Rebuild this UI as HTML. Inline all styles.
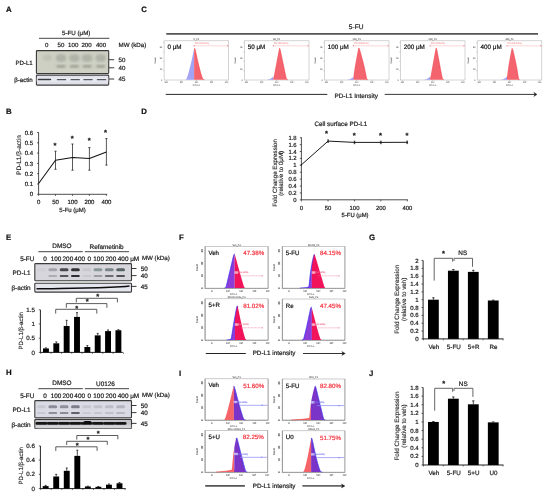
<!DOCTYPE html>
<html><head><meta charset="utf-8"><style>
html,body{margin:0;padding:0;background:#fff;}
svg{display:block;}
text{font-family:"Liberation Sans", Arial, sans-serif;text-rendering:geometricPrecision;}
</style></head><body>
<svg width="550" height="498" viewBox="0 0 550 498">
<rect width="550" height="498" fill="#fff"/>
<text x="6.00" y="11.80" font-size="7.8" text-anchor="start" fill="#111" font-weight="bold" stroke="#111" stroke-width="0.2" >A</text>
<text x="6.00" y="114.00" font-size="7.8" text-anchor="start" fill="#111" font-weight="bold" stroke="#111" stroke-width="0.2" >B</text>
<text x="141.30" y="11.80" font-size="7.8" text-anchor="start" fill="#111" font-weight="bold" stroke="#111" stroke-width="0.2" >C</text>
<text x="141.20" y="113.90" font-size="7.8" text-anchor="start" fill="#111" font-weight="bold" stroke="#111" stroke-width="0.2" >D</text>
<text x="6.10" y="240.10" font-size="7.8" text-anchor="start" fill="#111" font-weight="bold" stroke="#111" stroke-width="0.2" >E</text>
<text x="179.00" y="240.00" font-size="7.8" text-anchor="start" fill="#111" font-weight="bold" stroke="#111" stroke-width="0.2" >F</text>
<text x="369.00" y="240.20" font-size="7.8" text-anchor="start" fill="#111" font-weight="bold" stroke="#111" stroke-width="0.2" >G</text>
<text x="6.10" y="375.40" font-size="7.8" text-anchor="start" fill="#111" font-weight="bold" stroke="#111" stroke-width="0.2" >H</text>
<text x="179.00" y="375.90" font-size="7.8" text-anchor="start" fill="#111" font-weight="bold" stroke="#111" stroke-width="0.2" >I</text>
<text x="369.00" y="375.90" font-size="7.8" text-anchor="start" fill="#111" font-weight="bold" stroke="#111" stroke-width="0.2" >J</text>
<text x="76.20" y="35.10" font-size="6.2" text-anchor="middle" fill="#1a1a1a" font-weight="normal" stroke="#1a1a1a" stroke-width="0.2" >5-FU (μM)</text>
<line x1="39.00" y1="38.30" x2="109.40" y2="38.30" stroke="#333" stroke-width="0.9" />
<text x="46.60" y="47.40" font-size="6.1" text-anchor="middle" fill="#1a1a1a" font-weight="normal" stroke="#1a1a1a" stroke-width="0.2" >0</text>
<text x="61.00" y="47.40" font-size="6.1" text-anchor="middle" fill="#1a1a1a" font-weight="normal" stroke="#1a1a1a" stroke-width="0.2" >50</text>
<text x="73.20" y="47.40" font-size="6.1" text-anchor="middle" fill="#1a1a1a" font-weight="normal" stroke="#1a1a1a" stroke-width="0.2" >100</text>
<text x="86.50" y="47.40" font-size="6.1" text-anchor="middle" fill="#1a1a1a" font-weight="normal" stroke="#1a1a1a" stroke-width="0.2" >200</text>
<text x="101.00" y="47.40" font-size="6.1" text-anchor="middle" fill="#1a1a1a" font-weight="normal" stroke="#1a1a1a" stroke-width="0.2" >400</text>
<text x="118.50" y="47.00" font-size="6.2" text-anchor="start" fill="#1a1a1a" font-weight="normal" stroke="#1a1a1a" stroke-width="0.2" >MW (kDa)</text>
<defs><filter id="bl" x="-50%" y="-100%" width="200%" height="300%"><feGaussianBlur stdDeviation="0.9"/></filter><filter id="bl2" x="-50%" y="-100%" width="200%" height="300%"><feGaussianBlur stdDeviation="0.5"/></filter><filter id="bls" x="-100%" y="-100%" width="300%" height="300%"><feGaussianBlur stdDeviation="0.35"/></filter><filter id="bl3" x="-50%" y="-100%" width="200%" height="300%"><feGaussianBlur stdDeviation="1.4"/></filter></defs>
<rect x="36.40" y="50.60" width="72.30" height="22.90" fill="#cdd0c3" stroke="#3a3a3a" stroke-width="1.1" rx="0.8"/>
<rect x="43.00" y="54.80" width="9.00" height="6.00" rx="3.00" fill="#bfc2b5" opacity="1.0" filter="url(#bl)"/>
<rect x="55.75" y="54.25" width="10.50" height="7.50" rx="3.75" fill="#b0b3a7" opacity="1.0" filter="url(#bl)"/>
<rect x="56.50" y="65.60" width="9.00" height="1.60" rx="0.80" fill="#86887e" opacity="1.0" filter="url(#bl)"/>
<rect x="69.15" y="54.25" width="10.50" height="7.50" rx="3.75" fill="#b0b3a7" opacity="1.0" filter="url(#bl)"/>
<rect x="69.90" y="65.60" width="9.00" height="1.60" rx="0.80" fill="#86887e" opacity="1.0" filter="url(#bl)"/>
<rect x="81.95" y="54.25" width="10.50" height="7.50" rx="3.75" fill="#b0b3a7" opacity="1.0" filter="url(#bl)"/>
<rect x="82.70" y="65.60" width="9.00" height="1.60" rx="0.80" fill="#86887e" opacity="1.0" filter="url(#bl)"/>
<rect x="95.45" y="54.25" width="10.50" height="7.50" rx="3.75" fill="#b0b3a7" opacity="1.0" filter="url(#bl)"/>
<rect x="96.20" y="65.60" width="9.00" height="1.60" rx="0.80" fill="#86887e" opacity="1.0" filter="url(#bl)"/>
<rect x="36.40" y="75.10" width="72.30" height="10.00" fill="#dedee8" stroke="#3a3a3a" stroke-width="1.1" rx="0.8"/>
<rect x="37" y="77.5" width="71" height="4" fill="#ececf4" filter="url(#bl)"/>
<rect x="37.75" y="78.70" width="13.50" height="1.60" rx="0.80" fill="#3a3a42" opacity="1.0" filter="url(#bl2)"/>
<rect x="56.75" y="79.05" width="9.50" height="1.30" rx="0.65" fill="#5a5a64" opacity="1.0" filter="url(#bl2)"/>
<rect x="70.45" y="79.05" width="9.50" height="1.30" rx="0.65" fill="#5a5a64" opacity="1.0" filter="url(#bl2)"/>
<rect x="83.25" y="79.05" width="9.50" height="1.30" rx="0.65" fill="#5a5a64" opacity="1.0" filter="url(#bl2)"/>
<rect x="96.75" y="79.05" width="9.50" height="1.30" rx="0.65" fill="#5a5a64" opacity="1.0" filter="url(#bl2)"/>
<line x1="109.00" y1="59.70" x2="114.20" y2="59.70" stroke="#222" stroke-width="0.9" />
<line x1="109.00" y1="67.80" x2="114.20" y2="67.80" stroke="#222" stroke-width="0.9" />
<line x1="109.00" y1="79.00" x2="114.20" y2="79.00" stroke="#222" stroke-width="0.9" />
<text x="118.60" y="62.10" font-size="6.1" text-anchor="start" fill="#1a1a1a" font-weight="normal" stroke="#1a1a1a" stroke-width="0.2" >50</text>
<text x="118.60" y="70.20" font-size="6.1" text-anchor="start" fill="#1a1a1a" font-weight="normal" stroke="#1a1a1a" stroke-width="0.2" >40</text>
<text x="118.60" y="81.40" font-size="6.1" text-anchor="start" fill="#1a1a1a" font-weight="normal" stroke="#1a1a1a" stroke-width="0.2" >45</text>
<text x="32.70" y="65.20" font-size="6.1" text-anchor="end" fill="#1a1a1a" font-weight="normal" stroke="#1a1a1a" stroke-width="0.2" >PD-L1</text>
<text x="32.70" y="82.00" font-size="6.1" text-anchor="end" fill="#1a1a1a" font-weight="normal" stroke="#1a1a1a" stroke-width="0.2" >β-actin</text>
<line x1="38.60" y1="132.30" x2="38.60" y2="194.30" stroke="#222" stroke-width="0.8" />
<line x1="37.00" y1="194.30" x2="38.60" y2="194.30" stroke="#222" stroke-width="0.7" />
<text x="33.00" y="196.40" font-size="6.0" text-anchor="end" fill="#1a1a1a" font-weight="normal" stroke="#1a1a1a" stroke-width="0.2" >0</text>
<line x1="37.00" y1="184.00" x2="38.60" y2="184.00" stroke="#222" stroke-width="0.7" />
<text x="33.00" y="186.10" font-size="6.0" text-anchor="end" fill="#1a1a1a" font-weight="normal" stroke="#1a1a1a" stroke-width="0.2" >0.1</text>
<line x1="37.00" y1="173.70" x2="38.60" y2="173.70" stroke="#222" stroke-width="0.7" />
<text x="33.00" y="175.80" font-size="6.0" text-anchor="end" fill="#1a1a1a" font-weight="normal" stroke="#1a1a1a" stroke-width="0.2" >0.2</text>
<line x1="37.00" y1="163.40" x2="38.60" y2="163.40" stroke="#222" stroke-width="0.7" />
<text x="33.00" y="165.50" font-size="6.0" text-anchor="end" fill="#1a1a1a" font-weight="normal" stroke="#1a1a1a" stroke-width="0.2" >0.3</text>
<line x1="37.00" y1="153.10" x2="38.60" y2="153.10" stroke="#222" stroke-width="0.7" />
<text x="33.00" y="155.20" font-size="6.0" text-anchor="end" fill="#1a1a1a" font-weight="normal" stroke="#1a1a1a" stroke-width="0.2" >0.4</text>
<line x1="37.00" y1="142.80" x2="38.60" y2="142.80" stroke="#222" stroke-width="0.7" />
<text x="33.00" y="144.90" font-size="6.0" text-anchor="end" fill="#1a1a1a" font-weight="normal" stroke="#1a1a1a" stroke-width="0.2" >0.5</text>
<line x1="37.00" y1="132.50" x2="38.60" y2="132.50" stroke="#222" stroke-width="0.7" />
<text x="33.00" y="134.60" font-size="6.0" text-anchor="end" fill="#1a1a1a" font-weight="normal" stroke="#1a1a1a" stroke-width="0.2" >0.6</text>
<line x1="38.60" y1="194.30" x2="107.20" y2="194.30" stroke="#222" stroke-width="0.8" />
<line x1="38.60" y1="194.30" x2="38.60" y2="195.90" stroke="#222" stroke-width="0.7" />
<text x="38.60" y="203.80" font-size="6.0" text-anchor="middle" fill="#1a1a1a" font-weight="normal" stroke="#1a1a1a" stroke-width="0.2" >0</text>
<line x1="55.50" y1="194.30" x2="55.50" y2="195.90" stroke="#222" stroke-width="0.7" />
<text x="55.50" y="203.80" font-size="6.0" text-anchor="middle" fill="#1a1a1a" font-weight="normal" stroke="#1a1a1a" stroke-width="0.2" >50</text>
<line x1="72.50" y1="194.30" x2="72.50" y2="195.90" stroke="#222" stroke-width="0.7" />
<text x="72.50" y="203.80" font-size="6.0" text-anchor="middle" fill="#1a1a1a" font-weight="normal" stroke="#1a1a1a" stroke-width="0.2" >100</text>
<line x1="89.40" y1="194.30" x2="89.40" y2="195.90" stroke="#222" stroke-width="0.7" />
<text x="89.40" y="203.80" font-size="6.0" text-anchor="middle" fill="#1a1a1a" font-weight="normal" stroke="#1a1a1a" stroke-width="0.2" >200</text>
<line x1="106.40" y1="194.30" x2="106.40" y2="195.90" stroke="#222" stroke-width="0.7" />
<text x="106.40" y="203.80" font-size="6.0" text-anchor="middle" fill="#1a1a1a" font-weight="normal" stroke="#1a1a1a" stroke-width="0.2" >400</text>
<text x="72.60" y="212.30" font-size="6.0" text-anchor="middle" fill="#1a1a1a" font-weight="normal" stroke="#1a1a1a" stroke-width="0.2" >5-Fu (μM)</text>
<text x="0.00" y="0.00" font-size="6.5" text-anchor="middle" fill="#1a1a1a" font-weight="normal" stroke="#1a1a1a" stroke-width="0.12" transform="translate(21.2,155.0) rotate(-90)">PD-L1/β-actin</text>
<polyline points="38.60,183.50 55.50,160.30 72.50,157.50 89.40,158.50 106.40,152.10" fill="none" stroke="#111" stroke-width="1.05" stroke-linejoin="round" />
<line x1="55.50" y1="151.20" x2="55.50" y2="169.30" stroke="#111" stroke-width="0.7" />
<line x1="54.40" y1="151.20" x2="56.60" y2="151.20" stroke="#111" stroke-width="0.7" />
<line x1="54.40" y1="169.30" x2="56.60" y2="169.30" stroke="#111" stroke-width="0.7" />
<line x1="72.50" y1="144.00" x2="72.50" y2="170.20" stroke="#111" stroke-width="0.7" />
<line x1="71.40" y1="144.00" x2="73.60" y2="144.00" stroke="#111" stroke-width="0.7" />
<line x1="71.40" y1="170.20" x2="73.60" y2="170.20" stroke="#111" stroke-width="0.7" />
<line x1="89.40" y1="147.60" x2="89.40" y2="170.20" stroke="#111" stroke-width="0.7" />
<line x1="88.30" y1="147.60" x2="90.50" y2="147.60" stroke="#111" stroke-width="0.7" />
<line x1="88.30" y1="170.20" x2="90.50" y2="170.20" stroke="#111" stroke-width="0.7" />
<line x1="106.40" y1="138.60" x2="106.40" y2="165.10" stroke="#111" stroke-width="0.7" />
<line x1="105.30" y1="138.60" x2="107.50" y2="138.60" stroke="#111" stroke-width="0.7" />
<line x1="105.30" y1="165.10" x2="107.50" y2="165.10" stroke="#111" stroke-width="0.7" />
<text x="55.00" y="147.56" font-size="7.6" text-anchor="middle" fill="#111" font-weight="bold" stroke="#111" stroke-width="0.15">*</text>
<text x="72.20" y="141.06" font-size="7.6" text-anchor="middle" fill="#111" font-weight="bold" stroke="#111" stroke-width="0.15">*</text>
<text x="89.30" y="142.96" font-size="7.6" text-anchor="middle" fill="#111" font-weight="bold" stroke="#111" stroke-width="0.15">*</text>
<text x="105.60" y="134.76" font-size="7.6" text-anchor="middle" fill="#111" font-weight="bold" stroke="#111" stroke-width="0.15">*</text>
<text x="356.10" y="28.80" font-size="6.6" text-anchor="middle" fill="#1a1a1a" font-weight="normal" stroke="#1a1a1a" stroke-width="0.2" >5-FU</text>
<line x1="166.30" y1="33.90" x2="538.00" y2="33.90" stroke="#555" stroke-width="1.7" />
<rect x="164.10" y="40.80" width="64.60" height="39.20" fill="#fff" stroke="#b8b8b8" stroke-width="0.6" />
<line x1="162.90" y1="70.67" x2="164.10" y2="70.67" stroke="#999" stroke-width="0.4" />
<line x1="162.90" y1="61.33" x2="164.10" y2="61.33" stroke="#999" stroke-width="0.4" />
<line x1="162.90" y1="52.00" x2="164.10" y2="52.00" stroke="#999" stroke-width="0.4" />
<line x1="162.90" y1="42.67" x2="164.10" y2="42.67" stroke="#999" stroke-width="0.4" />
<line x1="166.10" y1="80.00" x2="166.10" y2="81.20" stroke="#999" stroke-width="0.4" />
<line x1="181.25" y1="80.00" x2="181.25" y2="81.20" stroke="#999" stroke-width="0.4" />
<line x1="196.40" y1="80.00" x2="196.40" y2="81.20" stroke="#999" stroke-width="0.4" />
<line x1="211.55" y1="80.00" x2="211.55" y2="81.20" stroke="#999" stroke-width="0.4" />
<line x1="226.70" y1="80.00" x2="226.70" y2="81.20" stroke="#999" stroke-width="0.4" />
<polygon points="184.50,79.70 184.50,79.70 184.75,79.70 185.00,79.70 185.26,79.68 185.51,79.64 185.76,79.54 186.01,79.35 186.27,79.05 186.52,78.63 186.77,78.10 187.03,77.49 187.28,76.81 187.53,76.09 187.78,75.32 188.03,74.51 188.29,73.68 188.54,72.81 188.79,71.92 189.04,71.00 189.30,70.06 189.55,69.10 189.80,68.11 190.06,67.10 190.31,66.08 190.56,65.04 190.81,63.98 191.06,62.90 191.32,61.81 191.57,60.70 191.82,59.57 192.07,58.43 192.33,57.28 192.58,56.11 192.83,54.93 193.09,53.73 193.34,52.53 193.59,51.34 193.84,50.21 194.09,49.23 194.10,49.21 194.10,79.70" fill="#a3a3f5" stroke="none" stroke-width="0.8" />
<polygon points="194.10,79.70 194.10,49.21 194.35,48.55 194.60,48.30 194.85,48.55 195.10,49.23 195.36,50.21 195.61,51.34 195.86,52.53 196.11,53.73 196.37,54.93 196.62,56.11 196.87,57.28 197.12,58.43 197.38,59.57 197.63,60.70 197.88,61.81 198.13,62.90 198.39,63.98 198.64,65.04 198.89,66.08 199.14,67.10 199.40,68.11 199.65,69.10 199.90,70.06 200.16,71.00 200.41,71.92 200.66,72.81 200.91,73.68 201.16,74.51 201.42,75.32 201.67,76.09 201.92,76.81 202.17,77.49 202.43,78.10 202.68,78.63 202.93,79.05 203.19,79.35 203.44,79.54 203.69,79.64 203.94,79.68 204.19,79.70 204.45,79.70 204.70,79.70 204.70,79.70" fill="#f4646e" stroke="none" stroke-width="0.8" />
<polyline points="194.35,48.55 194.60,48.30 194.85,48.55 195.10,49.23 195.36,50.21 195.61,51.34 195.86,52.53 196.11,53.73 196.37,54.93 196.62,56.11 196.87,57.28 197.12,58.43 197.38,59.57 197.63,60.70 197.88,61.81 198.13,62.90 198.39,63.98 198.64,65.04 198.89,66.08 199.14,67.10 199.40,68.11 199.65,69.10 199.90,70.06 200.16,71.00 200.41,71.92 200.66,72.81 200.91,73.68 201.16,74.51 201.42,75.32 201.67,76.09 201.92,76.81 202.17,77.49 202.43,78.10 202.68,78.63 202.93,79.05 203.19,79.35 203.44,79.54 203.69,79.64 203.94,79.68 204.19,79.70 204.45,79.70 204.70,79.70" fill="none" stroke="#ee2a36" stroke-width="0.5" stroke-linejoin="round" />
<line x1="194.10" y1="45.80" x2="227.70" y2="45.80" stroke="#f8b0b0" stroke-width="0.5" />
<rect x="193.70" y="45.10" width="0.80" height="1.40" fill="#f07070" stroke="none" stroke-width="0.8" />
<rect x="227.30" y="45.10" width="0.80" height="1.40" fill="#f07070" stroke="none" stroke-width="0.8" />
<text x="194.70" y="43.70" font-size="2.6" text-anchor="start" fill="#f47878" font-weight="normal" >P3 (93.51%)</text>
<text x="167.40" y="48.80" font-size="6.3" text-anchor="start" fill="#111" font-weight="normal" stroke="#111" stroke-width="0.2" >0 μM</text>
<text x="196.40" y="39.80" font-size="2.4" text-anchor="middle" fill="#777" font-weight="normal" stroke="#777" stroke-width="0.1" >0_P1</text>
<text x="196.40" y="85.80" font-size="2.2" text-anchor="middle" fill="#888" font-weight="normal" stroke="#888" stroke-width="0.1" >FITC-A</text>
<text x="166.10" y="82.80" font-size="2.2" text-anchor="middle" fill="#777" font-weight="normal" stroke="#777" stroke-width="0.1" >10²</text>
<text x="181.25" y="82.80" font-size="2.2" text-anchor="middle" fill="#777" font-weight="normal" stroke="#777" stroke-width="0.1" >10³</text>
<text x="196.40" y="82.80" font-size="2.2" text-anchor="middle" fill="#777" font-weight="normal" stroke="#777" stroke-width="0.1" >10⁴</text>
<text x="211.55" y="82.80" font-size="2.2" text-anchor="middle" fill="#777" font-weight="normal" stroke="#777" stroke-width="0.1" >10⁵</text>
<text x="226.70" y="82.80" font-size="2.2" text-anchor="middle" fill="#777" font-weight="normal" stroke="#777" stroke-width="0.1" >10⁶</text>
<text x="155.80" y="60.60" font-size="2.2" text-anchor="middle" fill="#777" font-weight="normal" stroke="#777" stroke-width="0.1" transform="rotate(-90 155.80 60.60)">Count</text>
<text x="162.30" y="80.80" font-size="2.2" text-anchor="end" fill="#777" font-weight="normal" stroke="#777" stroke-width="0.1" >0</text>
<text x="162.30" y="69.91" font-size="2.2" text-anchor="end" fill="#777" font-weight="normal" stroke="#777" stroke-width="0.1" >10</text>
<text x="162.30" y="59.02" font-size="2.2" text-anchor="end" fill="#777" font-weight="normal" stroke="#777" stroke-width="0.1" >20</text>
<text x="162.30" y="48.13" font-size="2.2" text-anchor="end" fill="#777" font-weight="normal" stroke="#777" stroke-width="0.1" >30</text>
<rect x="244.40" y="40.80" width="64.60" height="39.20" fill="#fff" stroke="#b8b8b8" stroke-width="0.6" />
<line x1="243.20" y1="70.67" x2="244.40" y2="70.67" stroke="#999" stroke-width="0.4" />
<line x1="243.20" y1="61.33" x2="244.40" y2="61.33" stroke="#999" stroke-width="0.4" />
<line x1="243.20" y1="52.00" x2="244.40" y2="52.00" stroke="#999" stroke-width="0.4" />
<line x1="243.20" y1="42.67" x2="244.40" y2="42.67" stroke="#999" stroke-width="0.4" />
<line x1="246.40" y1="80.00" x2="246.40" y2="81.20" stroke="#999" stroke-width="0.4" />
<line x1="261.55" y1="80.00" x2="261.55" y2="81.20" stroke="#999" stroke-width="0.4" />
<line x1="276.70" y1="80.00" x2="276.70" y2="81.20" stroke="#999" stroke-width="0.4" />
<line x1="291.85" y1="80.00" x2="291.85" y2="81.20" stroke="#999" stroke-width="0.4" />
<line x1="307.00" y1="80.00" x2="307.00" y2="81.20" stroke="#999" stroke-width="0.4" />
<polygon points="266.80,79.70 269.30,79.20 271.80,78.00 273.30,76.60 273.30,79.70" fill="#a0a0f0" stroke="none" stroke-width="0.8" />
<polygon points="271.70,79.70 271.70,79.70 271.90,79.70 272.11,79.69 272.31,79.66 272.51,79.60 272.72,79.47 272.92,79.22 273.13,78.83 273.30,78.35 273.30,79.70" fill="#a3a3f5" stroke="none" stroke-width="0.8" />
<polygon points="273.30,79.70 273.30,78.35 273.33,78.27 273.53,77.54 273.74,76.66 273.94,75.69 274.14,74.66 274.35,73.60 274.55,72.53 274.76,71.45 274.96,70.37 275.16,69.29 275.37,68.21 275.57,67.13 275.77,66.05 275.98,64.97 276.18,63.89 276.39,62.81 276.59,61.73 276.79,60.65 277.00,59.57 277.20,58.49 277.40,57.41 277.61,56.33 277.81,55.25 278.02,54.17 278.22,53.09 278.42,52.03 278.63,51.00 278.83,50.05 279.03,49.24 279.24,48.64 279.44,48.33 279.65,48.35 279.85,48.68 280.05,49.28 280.26,50.05 280.46,50.94 280.67,51.87 280.87,52.84 281.07,53.81 281.28,54.78 281.48,55.75 281.68,56.72 281.89,57.69 282.09,58.67 282.30,59.64 282.50,60.61 282.70,61.58 282.91,62.55 283.11,63.53 283.31,64.50 283.52,65.47 283.72,66.44 283.93,67.41 284.13,68.39 284.33,69.36 284.54,70.33 284.74,71.30 284.94,72.28 285.15,73.25 285.35,74.21 285.56,75.17 285.76,76.09 285.96,76.97 286.17,77.75 286.37,78.41 286.57,78.92 286.78,79.27 286.98,79.49 287.19,79.61 287.39,79.67 287.59,79.69 287.80,79.70 288.00,79.70 288.00,79.70" fill="#f4646e" stroke="none" stroke-width="0.8" />
<polyline points="279.24,48.64 279.44,48.33 279.65,48.35 279.85,48.68 280.05,49.28 280.26,50.05 280.46,50.94 280.67,51.87 280.87,52.84 281.07,53.81 281.28,54.78 281.48,55.75 281.68,56.72 281.89,57.69 282.09,58.67 282.30,59.64 282.50,60.61 282.70,61.58 282.91,62.55 283.11,63.53 283.31,64.50 283.52,65.47 283.72,66.44 283.93,67.41 284.13,68.39 284.33,69.36 284.54,70.33 284.74,71.30 284.94,72.28 285.15,73.25 285.35,74.21 285.56,75.17 285.76,76.09 285.96,76.97 286.17,77.75 286.37,78.41 286.57,78.92 286.78,79.27 286.98,79.49 287.19,79.61 287.39,79.67 287.59,79.69 287.80,79.70 288.00,79.70" fill="none" stroke="#ee2a36" stroke-width="0.5" stroke-linejoin="round" />
<line x1="273.30" y1="45.80" x2="308.00" y2="45.80" stroke="#f8b0b0" stroke-width="0.5" />
<rect x="272.90" y="45.10" width="0.80" height="1.40" fill="#f07070" stroke="none" stroke-width="0.8" />
<rect x="307.60" y="45.10" width="0.80" height="1.40" fill="#f07070" stroke="none" stroke-width="0.8" />
<text x="273.90" y="43.70" font-size="2.6" text-anchor="start" fill="#f47878" font-weight="normal" >P3 (93.51%)</text>
<text x="247.70" y="48.80" font-size="6.3" text-anchor="start" fill="#111" font-weight="normal" stroke="#111" stroke-width="0.2" >50 μM</text>
<text x="276.70" y="39.80" font-size="2.4" text-anchor="middle" fill="#777" font-weight="normal" stroke="#777" stroke-width="0.1" >50_P1</text>
<text x="276.70" y="85.80" font-size="2.2" text-anchor="middle" fill="#888" font-weight="normal" stroke="#888" stroke-width="0.1" >FITC-A</text>
<text x="246.40" y="82.80" font-size="2.2" text-anchor="middle" fill="#777" font-weight="normal" stroke="#777" stroke-width="0.1" >10²</text>
<text x="261.55" y="82.80" font-size="2.2" text-anchor="middle" fill="#777" font-weight="normal" stroke="#777" stroke-width="0.1" >10³</text>
<text x="276.70" y="82.80" font-size="2.2" text-anchor="middle" fill="#777" font-weight="normal" stroke="#777" stroke-width="0.1" >10⁴</text>
<text x="291.85" y="82.80" font-size="2.2" text-anchor="middle" fill="#777" font-weight="normal" stroke="#777" stroke-width="0.1" >10⁵</text>
<text x="307.00" y="82.80" font-size="2.2" text-anchor="middle" fill="#777" font-weight="normal" stroke="#777" stroke-width="0.1" >10⁶</text>
<text x="236.10" y="60.60" font-size="2.2" text-anchor="middle" fill="#777" font-weight="normal" stroke="#777" stroke-width="0.1" transform="rotate(-90 236.10 60.60)">Count</text>
<text x="242.60" y="80.80" font-size="2.2" text-anchor="end" fill="#777" font-weight="normal" stroke="#777" stroke-width="0.1" >0</text>
<text x="242.60" y="69.91" font-size="2.2" text-anchor="end" fill="#777" font-weight="normal" stroke="#777" stroke-width="0.1" >10</text>
<text x="242.60" y="59.02" font-size="2.2" text-anchor="end" fill="#777" font-weight="normal" stroke="#777" stroke-width="0.1" >20</text>
<text x="242.60" y="48.13" font-size="2.2" text-anchor="end" fill="#777" font-weight="normal" stroke="#777" stroke-width="0.1" >30</text>
<rect x="324.40" y="40.80" width="64.60" height="39.20" fill="#fff" stroke="#b8b8b8" stroke-width="0.6" />
<line x1="323.20" y1="70.67" x2="324.40" y2="70.67" stroke="#999" stroke-width="0.4" />
<line x1="323.20" y1="61.33" x2="324.40" y2="61.33" stroke="#999" stroke-width="0.4" />
<line x1="323.20" y1="52.00" x2="324.40" y2="52.00" stroke="#999" stroke-width="0.4" />
<line x1="323.20" y1="42.67" x2="324.40" y2="42.67" stroke="#999" stroke-width="0.4" />
<line x1="326.40" y1="80.00" x2="326.40" y2="81.20" stroke="#999" stroke-width="0.4" />
<line x1="341.55" y1="80.00" x2="341.55" y2="81.20" stroke="#999" stroke-width="0.4" />
<line x1="356.70" y1="80.00" x2="356.70" y2="81.20" stroke="#999" stroke-width="0.4" />
<line x1="371.85" y1="80.00" x2="371.85" y2="81.20" stroke="#999" stroke-width="0.4" />
<line x1="387.00" y1="80.00" x2="387.00" y2="81.20" stroke="#999" stroke-width="0.4" />
<polygon points="347.10,79.70 349.60,79.20 352.10,78.00 353.60,76.60 353.60,79.70" fill="#a0a0f0" stroke="none" stroke-width="0.8" />
<polygon points="351.70,79.70 351.70,79.70 351.90,79.70 352.11,79.68 352.31,79.62 352.52,79.49 352.72,79.23 352.93,78.77 353.13,78.05 353.34,77.07 353.55,75.86 353.60,75.49 353.60,79.70" fill="#a3a3f5" stroke="none" stroke-width="0.8" />
<polygon points="353.60,79.70 353.60,75.49 353.75,74.50 353.95,73.07 354.16,71.64 354.37,70.23 354.57,68.87 354.77,67.56 354.98,66.28 355.19,65.04 355.39,63.82 355.59,62.63 355.80,61.47 356.00,60.32 356.21,59.18 356.42,58.07 356.62,56.97 356.82,55.88 357.03,54.80 357.24,53.74 357.44,52.69 357.64,51.66 357.85,50.68 358.06,49.77 358.26,48.99 358.46,48.40 358.67,48.07 358.88,48.01 359.08,48.22 359.29,48.63 359.49,49.19 359.69,49.84 359.90,50.53 360.11,51.24 360.31,51.96 360.51,52.69 360.72,53.42 360.93,54.16 361.13,54.90 361.34,55.65 361.54,56.40 361.75,57.16 361.95,57.93 362.16,58.70 362.36,59.48 362.56,60.27 362.77,61.06 362.98,61.87 363.18,62.68 363.38,63.51 363.59,64.34 363.80,65.19 364.00,66.05 364.21,66.93 364.41,67.82 364.62,68.73 364.82,69.66 365.03,70.61 365.23,71.60 365.44,72.61 365.64,73.66 365.85,74.74 366.05,75.81 366.25,76.82 366.46,77.73 366.67,78.47 366.87,79.00 367.08,79.35 367.28,79.55 367.49,79.64 367.69,79.68 367.90,79.70 368.10,79.70 368.10,79.70" fill="#f4646e" stroke="none" stroke-width="0.8" />
<polyline points="358.46,48.40 358.67,48.07 358.88,48.01 359.08,48.22 359.29,48.63 359.49,49.19 359.69,49.84 359.90,50.53 360.11,51.24 360.31,51.96 360.51,52.69 360.72,53.42 360.93,54.16 361.13,54.90 361.34,55.65 361.54,56.40 361.75,57.16 361.95,57.93 362.16,58.70 362.36,59.48 362.56,60.27 362.77,61.06 362.98,61.87 363.18,62.68 363.38,63.51 363.59,64.34 363.80,65.19 364.00,66.05 364.21,66.93 364.41,67.82 364.62,68.73 364.82,69.66 365.03,70.61 365.23,71.60 365.44,72.61 365.64,73.66 365.85,74.74 366.05,75.81 366.25,76.82 366.46,77.73 366.67,78.47 366.87,79.00 367.08,79.35 367.28,79.55 367.49,79.64 367.69,79.68 367.90,79.70 368.10,79.70" fill="none" stroke="#ee2a36" stroke-width="0.5" stroke-linejoin="round" />
<line x1="353.60" y1="45.80" x2="388.00" y2="45.80" stroke="#f8b0b0" stroke-width="0.5" />
<rect x="353.20" y="45.10" width="0.80" height="1.40" fill="#f07070" stroke="none" stroke-width="0.8" />
<rect x="387.60" y="45.10" width="0.80" height="1.40" fill="#f07070" stroke="none" stroke-width="0.8" />
<text x="354.20" y="43.70" font-size="2.6" text-anchor="start" fill="#f47878" font-weight="normal" >P3 (93.51%)</text>
<text x="327.70" y="48.80" font-size="6.3" text-anchor="start" fill="#111" font-weight="normal" stroke="#111" stroke-width="0.2" >100 μM</text>
<text x="356.70" y="39.80" font-size="2.4" text-anchor="middle" fill="#777" font-weight="normal" stroke="#777" stroke-width="0.1" >100_P1</text>
<text x="356.70" y="85.80" font-size="2.2" text-anchor="middle" fill="#888" font-weight="normal" stroke="#888" stroke-width="0.1" >FITC-A</text>
<text x="326.40" y="82.80" font-size="2.2" text-anchor="middle" fill="#777" font-weight="normal" stroke="#777" stroke-width="0.1" >10²</text>
<text x="341.55" y="82.80" font-size="2.2" text-anchor="middle" fill="#777" font-weight="normal" stroke="#777" stroke-width="0.1" >10³</text>
<text x="356.70" y="82.80" font-size="2.2" text-anchor="middle" fill="#777" font-weight="normal" stroke="#777" stroke-width="0.1" >10⁴</text>
<text x="371.85" y="82.80" font-size="2.2" text-anchor="middle" fill="#777" font-weight="normal" stroke="#777" stroke-width="0.1" >10⁵</text>
<text x="387.00" y="82.80" font-size="2.2" text-anchor="middle" fill="#777" font-weight="normal" stroke="#777" stroke-width="0.1" >10⁶</text>
<text x="316.10" y="60.60" font-size="2.2" text-anchor="middle" fill="#777" font-weight="normal" stroke="#777" stroke-width="0.1" transform="rotate(-90 316.10 60.60)">Count</text>
<text x="322.60" y="80.80" font-size="2.2" text-anchor="end" fill="#777" font-weight="normal" stroke="#777" stroke-width="0.1" >0</text>
<text x="322.60" y="69.91" font-size="2.2" text-anchor="end" fill="#777" font-weight="normal" stroke="#777" stroke-width="0.1" >10</text>
<text x="322.60" y="59.02" font-size="2.2" text-anchor="end" fill="#777" font-weight="normal" stroke="#777" stroke-width="0.1" >20</text>
<text x="322.60" y="48.13" font-size="2.2" text-anchor="end" fill="#777" font-weight="normal" stroke="#777" stroke-width="0.1" >30</text>
<rect x="400.40" y="40.80" width="64.60" height="39.20" fill="#fff" stroke="#b8b8b8" stroke-width="0.6" />
<line x1="399.20" y1="70.67" x2="400.40" y2="70.67" stroke="#999" stroke-width="0.4" />
<line x1="399.20" y1="61.33" x2="400.40" y2="61.33" stroke="#999" stroke-width="0.4" />
<line x1="399.20" y1="52.00" x2="400.40" y2="52.00" stroke="#999" stroke-width="0.4" />
<line x1="399.20" y1="42.67" x2="400.40" y2="42.67" stroke="#999" stroke-width="0.4" />
<line x1="402.40" y1="80.00" x2="402.40" y2="81.20" stroke="#999" stroke-width="0.4" />
<line x1="417.55" y1="80.00" x2="417.55" y2="81.20" stroke="#999" stroke-width="0.4" />
<line x1="432.70" y1="80.00" x2="432.70" y2="81.20" stroke="#999" stroke-width="0.4" />
<line x1="447.85" y1="80.00" x2="447.85" y2="81.20" stroke="#999" stroke-width="0.4" />
<line x1="463.00" y1="80.00" x2="463.00" y2="81.20" stroke="#999" stroke-width="0.4" />
<polygon points="423.60,79.70 426.10,79.20 428.60,78.00 430.10,76.60 430.10,79.70" fill="#a0a0f0" stroke="none" stroke-width="0.8" />
<polygon points="428.50,79.70 428.50,79.70 428.69,79.70 428.89,79.69 429.08,79.67 429.27,79.61 429.47,79.50 429.66,79.29 429.86,78.95 430.05,78.45 430.10,78.28 430.10,79.70" fill="#a3a3f5" stroke="none" stroke-width="0.8" />
<polygon points="430.10,79.70 430.10,78.28 430.24,77.79 430.44,76.99 430.63,76.06 430.82,75.07 431.02,74.03 431.21,72.97 431.41,71.90 431.60,70.82 431.79,69.75 431.99,68.67 432.18,67.60 432.38,66.52 432.57,65.45 432.76,64.37 432.96,63.29 433.15,62.22 433.34,61.14 433.54,60.07 433.73,58.99 433.93,57.92 434.12,56.84 434.31,55.77 434.51,54.69 434.70,53.62 434.89,52.55 435.09,51.50 435.28,50.50 435.48,49.58 435.67,48.82 435.86,48.27 436.06,48.01 436.25,48.08 436.44,48.45 436.64,49.07 436.83,49.88 437.02,50.80 437.22,51.79 437.41,52.80 437.61,53.82 437.80,54.84 437.99,55.87 438.19,56.89 438.38,57.92 438.57,58.94 438.77,59.96 438.96,60.99 439.16,62.01 439.35,63.04 439.54,64.06 439.74,65.09 439.93,66.11 440.12,67.14 440.32,68.16 440.51,69.19 440.71,70.21 440.90,71.24 441.09,72.26 441.29,73.28 441.48,74.29 441.68,75.29 441.87,76.24 442.06,77.11 442.26,77.88 442.45,78.51 442.64,78.99 442.84,79.31 443.03,79.51 443.23,79.62 443.42,79.67 443.61,79.69 443.81,79.70 444.00,79.70 444.00,79.70" fill="#f4646e" stroke="none" stroke-width="0.8" />
<polyline points="435.86,48.27 436.06,48.01 436.25,48.08 436.44,48.45 436.64,49.07 436.83,49.88 437.02,50.80 437.22,51.79 437.41,52.80 437.61,53.82 437.80,54.84 437.99,55.87 438.19,56.89 438.38,57.92 438.57,58.94 438.77,59.96 438.96,60.99 439.16,62.01 439.35,63.04 439.54,64.06 439.74,65.09 439.93,66.11 440.12,67.14 440.32,68.16 440.51,69.19 440.71,70.21 440.90,71.24 441.09,72.26 441.29,73.28 441.48,74.29 441.68,75.29 441.87,76.24 442.06,77.11 442.26,77.88 442.45,78.51 442.64,78.99 442.84,79.31 443.03,79.51 443.23,79.62 443.42,79.67 443.61,79.69 443.81,79.70 444.00,79.70" fill="none" stroke="#ee2a36" stroke-width="0.5" stroke-linejoin="round" />
<line x1="430.10" y1="45.80" x2="464.00" y2="45.80" stroke="#f8b0b0" stroke-width="0.5" />
<rect x="429.70" y="45.10" width="0.80" height="1.40" fill="#f07070" stroke="none" stroke-width="0.8" />
<rect x="463.60" y="45.10" width="0.80" height="1.40" fill="#f07070" stroke="none" stroke-width="0.8" />
<text x="430.70" y="43.70" font-size="2.6" text-anchor="start" fill="#f47878" font-weight="normal" >P3 (93.51%)</text>
<text x="403.70" y="48.80" font-size="6.3" text-anchor="start" fill="#111" font-weight="normal" stroke="#111" stroke-width="0.2" >200 μM</text>
<text x="432.70" y="39.80" font-size="2.4" text-anchor="middle" fill="#777" font-weight="normal" stroke="#777" stroke-width="0.1" >200_P1</text>
<text x="432.70" y="85.80" font-size="2.2" text-anchor="middle" fill="#888" font-weight="normal" stroke="#888" stroke-width="0.1" >FITC-A</text>
<text x="402.40" y="82.80" font-size="2.2" text-anchor="middle" fill="#777" font-weight="normal" stroke="#777" stroke-width="0.1" >10²</text>
<text x="417.55" y="82.80" font-size="2.2" text-anchor="middle" fill="#777" font-weight="normal" stroke="#777" stroke-width="0.1" >10³</text>
<text x="432.70" y="82.80" font-size="2.2" text-anchor="middle" fill="#777" font-weight="normal" stroke="#777" stroke-width="0.1" >10⁴</text>
<text x="447.85" y="82.80" font-size="2.2" text-anchor="middle" fill="#777" font-weight="normal" stroke="#777" stroke-width="0.1" >10⁵</text>
<text x="463.00" y="82.80" font-size="2.2" text-anchor="middle" fill="#777" font-weight="normal" stroke="#777" stroke-width="0.1" >10⁶</text>
<text x="392.10" y="60.60" font-size="2.2" text-anchor="middle" fill="#777" font-weight="normal" stroke="#777" stroke-width="0.1" transform="rotate(-90 392.10 60.60)">Count</text>
<text x="398.60" y="80.80" font-size="2.2" text-anchor="end" fill="#777" font-weight="normal" stroke="#777" stroke-width="0.1" >0</text>
<text x="398.60" y="69.91" font-size="2.2" text-anchor="end" fill="#777" font-weight="normal" stroke="#777" stroke-width="0.1" >10</text>
<text x="398.60" y="59.02" font-size="2.2" text-anchor="end" fill="#777" font-weight="normal" stroke="#777" stroke-width="0.1" >20</text>
<text x="398.60" y="48.13" font-size="2.2" text-anchor="end" fill="#777" font-weight="normal" stroke="#777" stroke-width="0.1" >30</text>
<rect x="477.20" y="40.80" width="64.60" height="39.20" fill="#fff" stroke="#b8b8b8" stroke-width="0.6" />
<line x1="476.00" y1="70.67" x2="477.20" y2="70.67" stroke="#999" stroke-width="0.4" />
<line x1="476.00" y1="61.33" x2="477.20" y2="61.33" stroke="#999" stroke-width="0.4" />
<line x1="476.00" y1="52.00" x2="477.20" y2="52.00" stroke="#999" stroke-width="0.4" />
<line x1="476.00" y1="42.67" x2="477.20" y2="42.67" stroke="#999" stroke-width="0.4" />
<line x1="479.20" y1="80.00" x2="479.20" y2="81.20" stroke="#999" stroke-width="0.4" />
<line x1="494.35" y1="80.00" x2="494.35" y2="81.20" stroke="#999" stroke-width="0.4" />
<line x1="509.50" y1="80.00" x2="509.50" y2="81.20" stroke="#999" stroke-width="0.4" />
<line x1="524.65" y1="80.00" x2="524.65" y2="81.20" stroke="#999" stroke-width="0.4" />
<line x1="539.80" y1="80.00" x2="539.80" y2="81.20" stroke="#999" stroke-width="0.4" />
<polygon points="500.50,79.70 503.00,79.20 505.50,78.00 507.00,76.60 507.00,79.70" fill="#a0a0f0" stroke="none" stroke-width="0.8" />
<polygon points="505.40,79.70 505.40,79.70 505.58,79.70 505.76,79.68 505.94,79.63 506.12,79.53 506.31,79.34 506.49,78.99 506.67,78.44 506.85,77.66 507.00,76.82 507.00,79.70" fill="#a3a3f5" stroke="none" stroke-width="0.8" />
<polygon points="507.00,79.70 507.00,76.82 507.03,76.64 507.21,75.44 507.39,74.10 507.57,72.70 507.76,71.30 507.94,69.93 508.12,68.61 508.30,67.33 508.48,66.11 508.66,64.93 508.84,63.78 509.02,62.66 509.21,61.56 509.39,60.49 509.57,59.44 509.75,58.41 509.93,57.39 510.11,56.39 510.29,55.41 510.47,54.43 510.66,53.48 510.84,52.54 511.02,51.63 511.20,50.76 511.38,49.97 511.56,49.29 511.74,48.78 511.92,48.47 512.11,48.40 512.29,48.56 512.47,48.91 512.65,49.42 512.83,50.04 513.01,50.72 513.19,51.43 513.38,52.17 513.56,52.92 513.74,53.67 513.92,54.44 514.10,55.21 514.28,55.99 514.46,56.78 514.64,57.58 514.82,58.39 515.01,59.21 515.19,60.04 515.37,60.88 515.55,61.74 515.73,62.61 515.91,63.50 516.09,64.40 516.27,65.32 516.46,66.27 516.64,67.24 516.82,68.24 517.00,69.27 517.18,70.34 517.36,71.46 517.54,72.61 517.73,73.80 517.91,74.98 518.09,76.10 518.27,77.12 518.45,77.98 518.63,78.64 518.81,79.10 518.99,79.39 519.17,79.56 519.36,79.64 519.54,79.68 519.72,79.70 519.90,79.70 519.90,79.70" fill="#f4646e" stroke="none" stroke-width="0.8" />
<polyline points="511.74,48.78 511.92,48.47 512.11,48.40 512.29,48.56 512.47,48.91 512.65,49.42 512.83,50.04 513.01,50.72 513.19,51.43 513.38,52.17 513.56,52.92 513.74,53.67 513.92,54.44 514.10,55.21 514.28,55.99 514.46,56.78 514.64,57.58 514.82,58.39 515.01,59.21 515.19,60.04 515.37,60.88 515.55,61.74 515.73,62.61 515.91,63.50 516.09,64.40 516.27,65.32 516.46,66.27 516.64,67.24 516.82,68.24 517.00,69.27 517.18,70.34 517.36,71.46 517.54,72.61 517.73,73.80 517.91,74.98 518.09,76.10 518.27,77.12 518.45,77.98 518.63,78.64 518.81,79.10 518.99,79.39 519.17,79.56 519.36,79.64 519.54,79.68 519.72,79.70 519.90,79.70" fill="none" stroke="#ee2a36" stroke-width="0.5" stroke-linejoin="round" />
<line x1="507.00" y1="45.80" x2="540.80" y2="45.80" stroke="#f8b0b0" stroke-width="0.5" />
<rect x="506.60" y="45.10" width="0.80" height="1.40" fill="#f07070" stroke="none" stroke-width="0.8" />
<rect x="540.40" y="45.10" width="0.80" height="1.40" fill="#f07070" stroke="none" stroke-width="0.8" />
<text x="507.60" y="43.70" font-size="2.6" text-anchor="start" fill="#f47878" font-weight="normal" >P3 (93.51%)</text>
<text x="480.50" y="48.80" font-size="6.3" text-anchor="start" fill="#111" font-weight="normal" stroke="#111" stroke-width="0.2" >400 μM</text>
<text x="509.50" y="39.80" font-size="2.4" text-anchor="middle" fill="#777" font-weight="normal" stroke="#777" stroke-width="0.1" >400_P1</text>
<text x="509.50" y="85.80" font-size="2.2" text-anchor="middle" fill="#888" font-weight="normal" stroke="#888" stroke-width="0.1" >FITC-A</text>
<text x="479.20" y="82.80" font-size="2.2" text-anchor="middle" fill="#777" font-weight="normal" stroke="#777" stroke-width="0.1" >10²</text>
<text x="494.35" y="82.80" font-size="2.2" text-anchor="middle" fill="#777" font-weight="normal" stroke="#777" stroke-width="0.1" >10³</text>
<text x="509.50" y="82.80" font-size="2.2" text-anchor="middle" fill="#777" font-weight="normal" stroke="#777" stroke-width="0.1" >10⁴</text>
<text x="524.65" y="82.80" font-size="2.2" text-anchor="middle" fill="#777" font-weight="normal" stroke="#777" stroke-width="0.1" >10⁵</text>
<text x="539.80" y="82.80" font-size="2.2" text-anchor="middle" fill="#777" font-weight="normal" stroke="#777" stroke-width="0.1" >10⁶</text>
<text x="468.90" y="60.60" font-size="2.2" text-anchor="middle" fill="#777" font-weight="normal" stroke="#777" stroke-width="0.1" transform="rotate(-90 468.90 60.60)">Count</text>
<text x="475.40" y="80.80" font-size="2.2" text-anchor="end" fill="#777" font-weight="normal" stroke="#777" stroke-width="0.1" >0</text>
<text x="475.40" y="69.91" font-size="2.2" text-anchor="end" fill="#777" font-weight="normal" stroke="#777" stroke-width="0.1" >10</text>
<text x="475.40" y="59.02" font-size="2.2" text-anchor="end" fill="#777" font-weight="normal" stroke="#777" stroke-width="0.1" >20</text>
<text x="475.40" y="48.13" font-size="2.2" text-anchor="end" fill="#777" font-weight="normal" stroke="#777" stroke-width="0.1" >30</text>
<line x1="165.70" y1="94.40" x2="327.30" y2="94.40" stroke="#111" stroke-width="0.9" />
<text x="356.20" y="97.70" font-size="6.35" text-anchor="middle" fill="#1a1a1a" font-weight="normal" stroke="#1a1a1a" stroke-width="0.2" >PD-L1 Intensity</text>
<line x1="384.70" y1="94.40" x2="535.50" y2="94.40" stroke="#222" stroke-width="0.9" />
<polygon points="537.00,94.40 533.80,92.30 535.00,94.40 533.80,96.50" fill="#111" stroke="#111" stroke-width="0.3" />
<text x="340.90" y="126.30" font-size="6.3" text-anchor="middle" fill="#1a1a1a" font-weight="normal" stroke="#1a1a1a" stroke-width="0.2" >Cell surface PD-L1</text>
<line x1="301.40" y1="137.40" x2="301.40" y2="199.80" stroke="#222" stroke-width="0.8" />
<line x1="299.80" y1="199.80" x2="301.40" y2="199.80" stroke="#222" stroke-width="0.7" />
<text x="296.60" y="201.80" font-size="5.9" text-anchor="end" fill="#1a1a1a" font-weight="normal" stroke="#1a1a1a" stroke-width="0.2" >0</text>
<line x1="299.80" y1="192.90" x2="301.40" y2="192.90" stroke="#222" stroke-width="0.7" />
<text x="296.60" y="194.90" font-size="5.9" text-anchor="end" fill="#1a1a1a" font-weight="normal" stroke="#1a1a1a" stroke-width="0.2" >0.2</text>
<line x1="299.80" y1="186.00" x2="301.40" y2="186.00" stroke="#222" stroke-width="0.7" />
<text x="296.60" y="188.00" font-size="5.9" text-anchor="end" fill="#1a1a1a" font-weight="normal" stroke="#1a1a1a" stroke-width="0.2" >0.4</text>
<line x1="299.80" y1="179.10" x2="301.40" y2="179.10" stroke="#222" stroke-width="0.7" />
<text x="296.60" y="181.10" font-size="5.9" text-anchor="end" fill="#1a1a1a" font-weight="normal" stroke="#1a1a1a" stroke-width="0.2" >0.6</text>
<line x1="299.80" y1="172.20" x2="301.40" y2="172.20" stroke="#222" stroke-width="0.7" />
<text x="296.60" y="174.20" font-size="5.9" text-anchor="end" fill="#1a1a1a" font-weight="normal" stroke="#1a1a1a" stroke-width="0.2" >0.8</text>
<line x1="299.80" y1="165.30" x2="301.40" y2="165.30" stroke="#222" stroke-width="0.7" />
<text x="296.60" y="167.30" font-size="5.9" text-anchor="end" fill="#1a1a1a" font-weight="normal" stroke="#1a1a1a" stroke-width="0.2" >1</text>
<line x1="299.80" y1="158.40" x2="301.40" y2="158.40" stroke="#222" stroke-width="0.7" />
<text x="296.60" y="160.40" font-size="5.9" text-anchor="end" fill="#1a1a1a" font-weight="normal" stroke="#1a1a1a" stroke-width="0.2" >1.2</text>
<line x1="299.80" y1="151.50" x2="301.40" y2="151.50" stroke="#222" stroke-width="0.7" />
<text x="296.60" y="153.50" font-size="5.9" text-anchor="end" fill="#1a1a1a" font-weight="normal" stroke="#1a1a1a" stroke-width="0.2" >1.4</text>
<line x1="299.80" y1="144.60" x2="301.40" y2="144.60" stroke="#222" stroke-width="0.7" />
<text x="296.60" y="146.60" font-size="5.9" text-anchor="end" fill="#1a1a1a" font-weight="normal" stroke="#1a1a1a" stroke-width="0.2" >1.6</text>
<line x1="299.80" y1="137.70" x2="301.40" y2="137.70" stroke="#222" stroke-width="0.7" />
<text x="296.60" y="139.70" font-size="5.9" text-anchor="end" fill="#1a1a1a" font-weight="normal" stroke="#1a1a1a" stroke-width="0.2" >1.8</text>
<line x1="301.40" y1="199.80" x2="407.80" y2="199.80" stroke="#222" stroke-width="0.8" />
<line x1="301.40" y1="199.80" x2="301.40" y2="201.40" stroke="#222" stroke-width="0.7" />
<text x="301.40" y="209.60" font-size="5.9" text-anchor="middle" fill="#1a1a1a" font-weight="normal" stroke="#1a1a1a" stroke-width="0.2" >0</text>
<line x1="328.00" y1="199.80" x2="328.00" y2="201.40" stroke="#222" stroke-width="0.7" />
<text x="328.00" y="209.60" font-size="5.9" text-anchor="middle" fill="#1a1a1a" font-weight="normal" stroke="#1a1a1a" stroke-width="0.2" >50</text>
<line x1="354.50" y1="199.80" x2="354.50" y2="201.40" stroke="#222" stroke-width="0.7" />
<text x="354.50" y="209.60" font-size="5.9" text-anchor="middle" fill="#1a1a1a" font-weight="normal" stroke="#1a1a1a" stroke-width="0.2" >100</text>
<line x1="380.80" y1="199.80" x2="380.80" y2="201.40" stroke="#222" stroke-width="0.7" />
<text x="380.80" y="209.60" font-size="5.9" text-anchor="middle" fill="#1a1a1a" font-weight="normal" stroke="#1a1a1a" stroke-width="0.2" >200</text>
<line x1="407.30" y1="199.80" x2="407.30" y2="201.40" stroke="#222" stroke-width="0.7" />
<text x="407.30" y="209.60" font-size="5.9" text-anchor="middle" fill="#1a1a1a" font-weight="normal" stroke="#1a1a1a" stroke-width="0.2" >400</text>
<text x="355.10" y="216.60" font-size="5.9" text-anchor="middle" fill="#1a1a1a" font-weight="normal" stroke="#1a1a1a" stroke-width="0.2" >5-FU (μM)</text>
<text x="0.00" y="0.00" font-size="6.2" text-anchor="middle" fill="#1a1a1a" font-weight="normal" stroke="#1a1a1a" stroke-width="0.12" transform="translate(277.4,172.9) rotate(-90)">Fold Change Expression</text>
<text x="0.00" y="0.00" font-size="6.2" text-anchor="middle" fill="#1a1a1a" font-weight="normal" stroke="#1a1a1a" stroke-width="0.12" transform="translate(283.2,173.3) rotate(-90)">(relative to 0μM)</text>
<polyline points="301.40,164.80 328.10,141.10 354.50,142.40 380.80,142.40 407.20,142.30" fill="none" stroke="#1a1a1a" stroke-width="1.0" stroke-linejoin="round" />
<line x1="328.10" y1="139.80" x2="328.10" y2="142.40" stroke="#111" stroke-width="0.7" />
<line x1="327.20" y1="139.80" x2="329.00" y2="139.80" stroke="#111" stroke-width="0.6" />
<line x1="327.20" y1="142.40" x2="329.00" y2="142.40" stroke="#111" stroke-width="0.6" />
<line x1="354.50" y1="141.10" x2="354.50" y2="143.70" stroke="#111" stroke-width="0.7" />
<line x1="353.60" y1="141.10" x2="355.40" y2="141.10" stroke="#111" stroke-width="0.6" />
<line x1="353.60" y1="143.70" x2="355.40" y2="143.70" stroke="#111" stroke-width="0.6" />
<line x1="380.80" y1="141.10" x2="380.80" y2="143.70" stroke="#111" stroke-width="0.7" />
<line x1="379.90" y1="141.10" x2="381.70" y2="141.10" stroke="#111" stroke-width="0.6" />
<line x1="379.90" y1="143.70" x2="381.70" y2="143.70" stroke="#111" stroke-width="0.6" />
<line x1="407.20" y1="141.00" x2="407.20" y2="143.60" stroke="#111" stroke-width="0.7" />
<line x1="406.30" y1="141.00" x2="408.10" y2="141.00" stroke="#111" stroke-width="0.6" />
<line x1="406.30" y1="143.60" x2="408.10" y2="143.60" stroke="#111" stroke-width="0.6" />
<text x="326.40" y="136.46" font-size="7.6" text-anchor="middle" fill="#111" font-weight="bold" stroke="#111" stroke-width="0.15">*</text>
<text x="354.20" y="138.36" font-size="7.6" text-anchor="middle" fill="#111" font-weight="bold" stroke="#111" stroke-width="0.15">*</text>
<text x="380.60" y="137.86" font-size="7.6" text-anchor="middle" fill="#111" font-weight="bold" stroke="#111" stroke-width="0.15">*</text>
<text x="407.00" y="138.16" font-size="7.6" text-anchor="middle" fill="#111" font-weight="bold" stroke="#111" stroke-width="0.15">*</text>
<circle cx="301.40" cy="164.80" r="0.7" fill="#111"/>
<circle cx="328.10" cy="141.10" r="0.7" fill="#111"/>
<circle cx="354.50" cy="142.40" r="0.7" fill="#111"/>
<circle cx="380.80" cy="142.40" r="0.7" fill="#111"/>
<circle cx="407.20" cy="142.30" r="0.7" fill="#111"/>
<text x="61.90" y="248.40" font-size="6.4" text-anchor="middle" fill="#1a1a1a" font-weight="normal" stroke="#1a1a1a" stroke-width="0.2" >DMSO</text>
<text x="106.60" y="248.70" font-size="6.4" text-anchor="middle" fill="#1a1a1a" font-weight="normal" stroke="#1a1a1a" stroke-width="0.2" >Refametinib</text>
<line x1="38.30" y1="251.70" x2="82.80" y2="251.70" stroke="#444" stroke-width="1.0" />
<line x1="84.80" y1="251.70" x2="129.00" y2="251.70" stroke="#444" stroke-width="1.0" />
<text x="34.40" y="260.80" font-size="6.4" text-anchor="end" fill="#1a1a1a" font-weight="normal" stroke="#1a1a1a" stroke-width="0.2" >5-FU</text>
<text x="45.10" y="260.80" font-size="6.4" text-anchor="middle" fill="#1a1a1a" font-weight="normal" stroke="#1a1a1a" stroke-width="0.2" >0</text>
<text x="56.10" y="260.80" font-size="6.4" text-anchor="middle" fill="#1a1a1a" font-weight="normal" stroke="#1a1a1a" stroke-width="0.2" >100</text>
<text x="67.90" y="260.80" font-size="6.4" text-anchor="middle" fill="#1a1a1a" font-weight="normal" stroke="#1a1a1a" stroke-width="0.2" >200</text>
<text x="79.70" y="260.80" font-size="6.4" text-anchor="middle" fill="#1a1a1a" font-weight="normal" stroke="#1a1a1a" stroke-width="0.2" >400</text>
<text x="89.35" y="260.80" font-size="6.4" text-anchor="middle" fill="#1a1a1a" font-weight="normal" stroke="#1a1a1a" stroke-width="0.2" >0</text>
<text x="98.65" y="260.80" font-size="6.4" text-anchor="middle" fill="#1a1a1a" font-weight="normal" stroke="#1a1a1a" stroke-width="0.2" >100</text>
<text x="110.90" y="260.80" font-size="6.4" text-anchor="middle" fill="#1a1a1a" font-weight="normal" stroke="#1a1a1a" stroke-width="0.2" >200</text>
<text x="123.15" y="260.80" font-size="6.4" text-anchor="middle" fill="#1a1a1a" font-weight="normal" stroke="#1a1a1a" stroke-width="0.2" >400</text>
<text x="130.20" y="260.80" font-size="6.4" text-anchor="start" fill="#1a1a1a" font-weight="normal" stroke="#1a1a1a" stroke-width="0.2" >μM</text>
<text x="141.90" y="260.10" font-size="6.2" text-anchor="start" fill="#1a1a1a" font-weight="normal" stroke="#1a1a1a" stroke-width="0.2" >MW (kDa)</text>
<rect x="34.80" y="263.60" width="96.70" height="17.10" fill="#d6d6dc" stroke="#3a3a3a" stroke-width="1.1" rx="0.8"/>
<rect x="37.10" y="268.30" width="8.80" height="3.00" rx="1.50" fill="#d0d0d6" opacity="1.0" filter="url(#bl2)"/>
<rect x="48.40" y="268.30" width="8.80" height="3.00" rx="1.50" fill="#a4a4ac" opacity="1.0" filter="url(#bl2)"/>
<rect x="48.40" y="274.90" width="8.80" height="2.00" rx="1.00" fill="#acacb4" opacity="1.0" filter="url(#bl2)"/>
<rect x="59.70" y="268.30" width="8.80" height="3.00" rx="1.50" fill="#4a4a50" opacity="1.0" filter="url(#bl2)"/>
<rect x="59.70" y="274.90" width="8.80" height="2.00" rx="1.00" fill="#55555c" opacity="1.0" filter="url(#bl2)"/>
<rect x="71.00" y="268.30" width="8.80" height="3.00" rx="1.50" fill="#323236" opacity="1.0" filter="url(#bl2)"/>
<rect x="71.00" y="274.90" width="8.80" height="2.00" rx="1.00" fill="#2e2e32" opacity="1.0" filter="url(#bl2)"/>
<rect x="82.30" y="268.30" width="8.80" height="3.00" rx="1.50" fill="#c8c8ce" opacity="1.0" filter="url(#bl2)"/>
<rect x="82.30" y="274.90" width="8.80" height="2.00" rx="1.00" fill="#c8c8ce" opacity="1.0" filter="url(#bl2)"/>
<rect x="93.60" y="268.30" width="8.80" height="3.00" rx="1.50" fill="#8a9898" opacity="1.0" filter="url(#bl2)"/>
<rect x="93.60" y="274.90" width="8.80" height="2.00" rx="1.00" fill="#9c9ca2" opacity="1.0" filter="url(#bl2)"/>
<rect x="104.90" y="268.30" width="8.80" height="3.00" rx="1.50" fill="#7c868a" opacity="1.0" filter="url(#bl2)"/>
<rect x="104.90" y="274.90" width="8.80" height="2.00" rx="1.00" fill="#6c6c74" opacity="1.0" filter="url(#bl2)"/>
<rect x="116.20" y="268.30" width="8.80" height="3.00" rx="1.50" fill="#586464" opacity="1.0" filter="url(#bl2)"/>
<rect x="116.20" y="274.90" width="8.80" height="2.00" rx="1.00" fill="#525258" opacity="1.0" filter="url(#bl2)"/>
<rect x="34.80" y="283.30" width="96.70" height="8.80" fill="#e6e6ee" stroke="#3a3a3a" stroke-width="1.1" rx="0.8"/>
<path d="M36.5,288.8 Q50,289.0 60,288.5 Q75,288.3 85,288.1 Q100,287.7 110,287.3 Q122,286.9 129.5,286.0" fill="none" stroke="#111" stroke-width="1.5" filter="url(#bl2)"/>
<line x1="131.50" y1="268.50" x2="136.50" y2="268.50" stroke="#222" stroke-width="0.9" />
<line x1="131.50" y1="275.60" x2="136.50" y2="275.60" stroke="#222" stroke-width="0.9" />
<line x1="131.50" y1="286.40" x2="136.50" y2="286.40" stroke="#222" stroke-width="0.9" />
<text x="140.80" y="271.00" font-size="6.3" text-anchor="start" fill="#1a1a1a" font-weight="normal" stroke="#1a1a1a" stroke-width="0.2" >50</text>
<text x="140.80" y="278.10" font-size="6.3" text-anchor="start" fill="#1a1a1a" font-weight="normal" stroke="#1a1a1a" stroke-width="0.2" >40</text>
<text x="140.80" y="288.90" font-size="6.3" text-anchor="start" fill="#1a1a1a" font-weight="normal" stroke="#1a1a1a" stroke-width="0.2" >45</text>
<text x="30.70" y="275.20" font-size="6.4" text-anchor="end" fill="#1a1a1a" font-weight="normal" stroke="#1a1a1a" stroke-width="0.2" >PD-L1</text>
<text x="30.70" y="290.00" font-size="6.4" text-anchor="end" fill="#1a1a1a" font-weight="normal" stroke="#1a1a1a" stroke-width="0.2" >β-actin</text>
<line x1="40.40" y1="309.80" x2="40.40" y2="352.80" stroke="#222" stroke-width="1.0" />
<line x1="38.80" y1="352.40" x2="40.40" y2="352.40" stroke="#222" stroke-width="0.7" />
<text x="34.90" y="354.50" font-size="6.2" text-anchor="end" fill="#1a1a1a" font-weight="normal" stroke="#1a1a1a" stroke-width="0.2" >0</text>
<line x1="38.80" y1="338.20" x2="40.40" y2="338.20" stroke="#222" stroke-width="0.7" />
<text x="34.90" y="340.30" font-size="6.2" text-anchor="end" fill="#1a1a1a" font-weight="normal" stroke="#1a1a1a" stroke-width="0.2" >0.5</text>
<line x1="38.80" y1="324.00" x2="40.40" y2="324.00" stroke="#222" stroke-width="0.7" />
<text x="34.90" y="326.10" font-size="6.2" text-anchor="end" fill="#1a1a1a" font-weight="normal" stroke="#1a1a1a" stroke-width="0.2" >1</text>
<line x1="38.80" y1="309.80" x2="40.40" y2="309.80" stroke="#222" stroke-width="0.7" />
<text x="34.90" y="311.90" font-size="6.2" text-anchor="end" fill="#1a1a1a" font-weight="normal" stroke="#1a1a1a" stroke-width="0.2" >1.5</text>
<line x1="40.40" y1="352.40" x2="122.80" y2="352.40" stroke="#222" stroke-width="1.0" />
<line x1="40.70" y1="352.40" x2="40.70" y2="353.90" stroke="#222" stroke-width="0.6" />
<line x1="51.05" y1="352.40" x2="51.05" y2="353.90" stroke="#222" stroke-width="0.6" />
<line x1="61.40" y1="352.40" x2="61.40" y2="353.90" stroke="#222" stroke-width="0.6" />
<line x1="71.75" y1="352.40" x2="71.75" y2="353.90" stroke="#222" stroke-width="0.6" />
<line x1="82.10" y1="352.40" x2="82.10" y2="353.90" stroke="#222" stroke-width="0.6" />
<line x1="92.45" y1="352.40" x2="92.45" y2="353.90" stroke="#222" stroke-width="0.6" />
<line x1="102.80" y1="352.40" x2="102.80" y2="353.90" stroke="#222" stroke-width="0.6" />
<line x1="113.15" y1="352.40" x2="113.15" y2="353.90" stroke="#222" stroke-width="0.6" />
<line x1="123.50" y1="352.40" x2="123.50" y2="353.90" stroke="#222" stroke-width="0.6" />
<rect x="43.00" y="348.42" width="5.90" height="3.98" fill="#000" stroke="none" stroke-width="0.8" />
<line x1="45.95" y1="348.42" x2="45.95" y2="347.86" stroke="#000" stroke-width="0.7" />
<line x1="44.95" y1="347.86" x2="46.95" y2="347.86" stroke="#000" stroke-width="0.7" />
<rect x="53.35" y="343.31" width="5.90" height="9.09" fill="#000" stroke="none" stroke-width="0.8" />
<line x1="56.30" y1="343.31" x2="56.30" y2="341.89" stroke="#000" stroke-width="0.7" />
<line x1="55.30" y1="341.89" x2="57.30" y2="341.89" stroke="#000" stroke-width="0.7" />
<rect x="63.70" y="325.99" width="5.90" height="26.41" fill="#000" stroke="none" stroke-width="0.8" />
<line x1="66.65" y1="325.99" x2="66.65" y2="320.31" stroke="#000" stroke-width="0.7" />
<line x1="65.65" y1="320.31" x2="67.65" y2="320.31" stroke="#000" stroke-width="0.7" />
<rect x="74.05" y="316.90" width="5.90" height="35.50" fill="#000" stroke="none" stroke-width="0.8" />
<line x1="77.00" y1="316.90" x2="77.00" y2="312.64" stroke="#000" stroke-width="0.7" />
<line x1="76.00" y1="312.64" x2="78.00" y2="312.64" stroke="#000" stroke-width="0.7" />
<rect x="84.40" y="347.00" width="5.90" height="5.40" fill="#000" stroke="none" stroke-width="0.8" />
<line x1="87.35" y1="347.00" x2="87.35" y2="345.58" stroke="#000" stroke-width="0.7" />
<line x1="86.35" y1="345.58" x2="88.35" y2="345.58" stroke="#000" stroke-width="0.7" />
<rect x="94.75" y="335.36" width="5.90" height="17.04" fill="#000" stroke="none" stroke-width="0.8" />
<line x1="97.70" y1="335.36" x2="97.70" y2="333.37" stroke="#000" stroke-width="0.7" />
<line x1="96.70" y1="333.37" x2="98.70" y2="333.37" stroke="#000" stroke-width="0.7" />
<rect x="105.10" y="331.10" width="5.90" height="21.30" fill="#000" stroke="none" stroke-width="0.8" />
<line x1="108.05" y1="331.10" x2="108.05" y2="329.96" stroke="#000" stroke-width="0.7" />
<line x1="107.05" y1="329.96" x2="109.05" y2="329.96" stroke="#000" stroke-width="0.7" />
<rect x="115.45" y="330.25" width="5.90" height="22.15" fill="#000" stroke="none" stroke-width="0.8" />
<line x1="118.40" y1="330.25" x2="118.40" y2="329.68" stroke="#000" stroke-width="0.7" />
<line x1="117.40" y1="329.68" x2="119.40" y2="329.68" stroke="#000" stroke-width="0.7" />
<text x="0.00" y="0.00" font-size="6.1" text-anchor="middle" fill="#1a1a1a" font-weight="normal" stroke="#1a1a1a" stroke-width="0.12" transform="translate(23.2,330.80) rotate(-90)">PD-L1/β-actin</text>
<polyline points="55.70,313.60 55.70,309.30 96.80,309.30 96.80,313.60" fill="none" stroke="#333" stroke-width="0.8" stroke-linejoin="round" />
<text x="76.80" y="310.66" font-size="7.6" text-anchor="middle" fill="#111" font-weight="bold" stroke="#111" stroke-width="0.15">*</text>
<polyline points="66.30,307.80 66.30,303.60 106.90,303.60 106.90,307.80" fill="none" stroke="#333" stroke-width="0.8" stroke-linejoin="round" />
<text x="87.30" y="304.46" font-size="7.6" text-anchor="middle" fill="#111" font-weight="bold" stroke="#111" stroke-width="0.15">*</text>
<polyline points="76.30,302.40 76.30,298.30 117.40,298.30 117.40,302.40" fill="none" stroke="#333" stroke-width="0.8" stroke-linejoin="round" />
<text x="97.80" y="298.86" font-size="7.6" text-anchor="middle" fill="#111" font-weight="bold" stroke="#111" stroke-width="0.15">*</text>
<text x="61.90" y="385.40" font-size="6.4" text-anchor="middle" fill="#1a1a1a" font-weight="normal" stroke="#1a1a1a" stroke-width="0.2" >DMSO</text>
<text x="105.50" y="385.70" font-size="6.4" text-anchor="middle" fill="#1a1a1a" font-weight="normal" stroke="#1a1a1a" stroke-width="0.2" >U0126</text>
<line x1="38.30" y1="388.70" x2="82.80" y2="388.70" stroke="#444" stroke-width="1.0" />
<line x1="84.80" y1="388.70" x2="129.00" y2="388.70" stroke="#444" stroke-width="1.0" />
<text x="34.40" y="397.80" font-size="6.4" text-anchor="end" fill="#1a1a1a" font-weight="normal" stroke="#1a1a1a" stroke-width="0.2" >5-FU</text>
<text x="45.10" y="397.80" font-size="6.4" text-anchor="middle" fill="#1a1a1a" font-weight="normal" stroke="#1a1a1a" stroke-width="0.2" >0</text>
<text x="56.10" y="397.80" font-size="6.4" text-anchor="middle" fill="#1a1a1a" font-weight="normal" stroke="#1a1a1a" stroke-width="0.2" >100</text>
<text x="67.90" y="397.80" font-size="6.4" text-anchor="middle" fill="#1a1a1a" font-weight="normal" stroke="#1a1a1a" stroke-width="0.2" >200</text>
<text x="79.70" y="397.80" font-size="6.4" text-anchor="middle" fill="#1a1a1a" font-weight="normal" stroke="#1a1a1a" stroke-width="0.2" >400</text>
<text x="89.35" y="397.80" font-size="6.4" text-anchor="middle" fill="#1a1a1a" font-weight="normal" stroke="#1a1a1a" stroke-width="0.2" >0</text>
<text x="98.65" y="397.80" font-size="6.4" text-anchor="middle" fill="#1a1a1a" font-weight="normal" stroke="#1a1a1a" stroke-width="0.2" >100</text>
<text x="110.90" y="397.80" font-size="6.4" text-anchor="middle" fill="#1a1a1a" font-weight="normal" stroke="#1a1a1a" stroke-width="0.2" >200</text>
<text x="123.15" y="397.80" font-size="6.4" text-anchor="middle" fill="#1a1a1a" font-weight="normal" stroke="#1a1a1a" stroke-width="0.2" >400</text>
<text x="130.20" y="397.80" font-size="6.4" text-anchor="start" fill="#1a1a1a" font-weight="normal" stroke="#1a1a1a" stroke-width="0.2" >μM</text>
<text x="141.90" y="397.10" font-size="6.2" text-anchor="start" fill="#1a1a1a" font-weight="normal" stroke="#1a1a1a" stroke-width="0.2" >MW (kDa)</text>
<rect x="34.80" y="400.60" width="96.70" height="17.10" fill="#dadae4" stroke="#3a3a3a" stroke-width="1.1" rx="0.8"/>
<rect x="37.10" y="405.30" width="8.80" height="3.00" rx="1.50" fill="#c8c8d2" opacity="1.0" filter="url(#bl2)"/>
<rect x="37.10" y="411.90" width="8.80" height="2.00" rx="1.00" fill="#c8c8d2" opacity="1.0" filter="url(#bl2)"/>
<rect x="48.40" y="405.30" width="8.80" height="3.00" rx="1.50" fill="#8a8a98" opacity="1.0" filter="url(#bl2)"/>
<rect x="48.40" y="411.90" width="8.80" height="2.00" rx="1.00" fill="#8e8e9c" opacity="1.0" filter="url(#bl2)"/>
<rect x="59.70" y="405.30" width="8.80" height="3.00" rx="1.50" fill="#8e8e9c" opacity="1.0" filter="url(#bl2)"/>
<rect x="59.70" y="411.90" width="8.80" height="2.00" rx="1.00" fill="#8a8a98" opacity="1.0" filter="url(#bl2)"/>
<rect x="71.00" y="405.30" width="8.80" height="3.00" rx="1.50" fill="#7c7c8a" opacity="1.0" filter="url(#bl2)"/>
<rect x="71.00" y="411.90" width="8.80" height="2.00" rx="1.00" fill="#60606e" opacity="1.0" filter="url(#bl2)"/>
<rect x="82.30" y="405.30" width="8.80" height="3.00" rx="1.50" fill="#c6c6d0" opacity="1.0" filter="url(#bl2)"/>
<rect x="82.30" y="411.90" width="8.80" height="2.00" rx="1.00" fill="#cacad4" opacity="1.0" filter="url(#bl2)"/>
<rect x="93.60" y="405.30" width="8.80" height="3.00" rx="1.50" fill="#c2c2cc" opacity="1.0" filter="url(#bl2)"/>
<rect x="93.60" y="411.90" width="8.80" height="2.00" rx="1.00" fill="#c6c6d0" opacity="1.0" filter="url(#bl2)"/>
<rect x="104.90" y="405.30" width="8.80" height="3.00" rx="1.50" fill="#bcbcc8" opacity="1.0" filter="url(#bl2)"/>
<rect x="104.90" y="411.90" width="8.80" height="2.00" rx="1.00" fill="#c0c0cc" opacity="1.0" filter="url(#bl2)"/>
<rect x="116.20" y="405.30" width="8.80" height="3.00" rx="1.50" fill="#b4b4c0" opacity="1.0" filter="url(#bl2)"/>
<rect x="116.20" y="411.90" width="8.80" height="2.00" rx="1.00" fill="#b8b8c4" opacity="1.0" filter="url(#bl2)"/>
<rect x="34.80" y="419.40" width="96.70" height="9.10" fill="#c4c4c8" stroke="#3a3a3a" stroke-width="1.1" rx="0.8"/>
<rect x="35.5" y="425.5" width="95.5" height="2.6" fill="#dcdce0" filter="url(#bl)"/>
<rect x="35.60" y="422.10" width="11.80" height="2.60" rx="1.30" fill="#161616" opacity="1.0" filter="url(#bl2)"/>
<rect x="46.90" y="422.10" width="11.80" height="2.60" rx="1.30" fill="#161616" opacity="1.0" filter="url(#bl2)"/>
<rect x="58.20" y="422.10" width="11.80" height="2.60" rx="1.30" fill="#161616" opacity="1.0" filter="url(#bl2)"/>
<rect x="69.50" y="422.10" width="11.80" height="2.60" rx="1.30" fill="#161616" opacity="1.0" filter="url(#bl2)"/>
<rect x="80.80" y="422.10" width="11.80" height="2.60" rx="1.30" fill="#161616" opacity="1.0" filter="url(#bl2)"/>
<rect x="92.10" y="422.10" width="11.80" height="2.60" rx="1.30" fill="#161616" opacity="1.0" filter="url(#bl2)"/>
<rect x="103.40" y="422.10" width="11.80" height="2.60" rx="1.30" fill="#161616" opacity="1.0" filter="url(#bl2)"/>
<rect x="114.70" y="422.10" width="11.80" height="2.60" rx="1.30" fill="#161616" opacity="1.0" filter="url(#bl2)"/>
<rect x="83.50" y="421.10" width="8.00" height="3.00" rx="1.50" fill="#111" opacity="1.0" filter="url(#bl2)"/>
<line x1="131.50" y1="405.50" x2="136.50" y2="405.50" stroke="#222" stroke-width="0.9" />
<line x1="131.50" y1="412.60" x2="136.50" y2="412.60" stroke="#222" stroke-width="0.9" />
<line x1="131.50" y1="423.40" x2="136.50" y2="423.40" stroke="#222" stroke-width="0.9" />
<text x="140.80" y="408.00" font-size="6.3" text-anchor="start" fill="#1a1a1a" font-weight="normal" stroke="#1a1a1a" stroke-width="0.2" >50</text>
<text x="140.80" y="415.10" font-size="6.3" text-anchor="start" fill="#1a1a1a" font-weight="normal" stroke="#1a1a1a" stroke-width="0.2" >40</text>
<text x="140.80" y="425.90" font-size="6.3" text-anchor="start" fill="#1a1a1a" font-weight="normal" stroke="#1a1a1a" stroke-width="0.2" >45</text>
<text x="30.70" y="412.20" font-size="6.4" text-anchor="end" fill="#1a1a1a" font-weight="normal" stroke="#1a1a1a" stroke-width="0.2" >PD-L1</text>
<text x="30.70" y="427.00" font-size="6.4" text-anchor="end" fill="#1a1a1a" font-weight="normal" stroke="#1a1a1a" stroke-width="0.2" >β-actin</text>
<line x1="40.40" y1="445.91" x2="40.40" y2="489.00" stroke="#222" stroke-width="1.0" />
<line x1="38.80" y1="488.60" x2="40.40" y2="488.60" stroke="#222" stroke-width="0.7" />
<text x="34.90" y="490.70" font-size="6.2" text-anchor="end" fill="#1a1a1a" font-weight="normal" stroke="#1a1a1a" stroke-width="0.2" >0</text>
<line x1="38.80" y1="474.37" x2="40.40" y2="474.37" stroke="#222" stroke-width="0.7" />
<text x="34.90" y="476.47" font-size="6.2" text-anchor="end" fill="#1a1a1a" font-weight="normal" stroke="#1a1a1a" stroke-width="0.2" >0.2</text>
<line x1="38.80" y1="460.14" x2="40.40" y2="460.14" stroke="#222" stroke-width="0.7" />
<text x="34.90" y="462.24" font-size="6.2" text-anchor="end" fill="#1a1a1a" font-weight="normal" stroke="#1a1a1a" stroke-width="0.2" >0.4</text>
<line x1="38.80" y1="445.91" x2="40.40" y2="445.91" stroke="#222" stroke-width="0.7" />
<text x="34.90" y="448.01" font-size="6.2" text-anchor="end" fill="#1a1a1a" font-weight="normal" stroke="#1a1a1a" stroke-width="0.2" >0.6</text>
<line x1="40.40" y1="488.60" x2="125.70" y2="488.60" stroke="#222" stroke-width="1.0" />
<line x1="40.70" y1="488.60" x2="40.70" y2="490.10" stroke="#222" stroke-width="0.6" />
<line x1="51.25" y1="488.60" x2="51.25" y2="490.10" stroke="#222" stroke-width="0.6" />
<line x1="61.80" y1="488.60" x2="61.80" y2="490.10" stroke="#222" stroke-width="0.6" />
<line x1="72.35" y1="488.60" x2="72.35" y2="490.10" stroke="#222" stroke-width="0.6" />
<line x1="82.90" y1="488.60" x2="82.90" y2="490.10" stroke="#222" stroke-width="0.6" />
<line x1="93.45" y1="488.60" x2="93.45" y2="490.10" stroke="#222" stroke-width="0.6" />
<line x1="104.00" y1="488.60" x2="104.00" y2="490.10" stroke="#222" stroke-width="0.6" />
<line x1="114.55" y1="488.60" x2="114.55" y2="490.10" stroke="#222" stroke-width="0.6" />
<line x1="125.10" y1="488.60" x2="125.10" y2="490.10" stroke="#222" stroke-width="0.6" />
<rect x="42.70" y="486.11" width="5.90" height="2.49" fill="#000" stroke="none" stroke-width="0.8" />
<line x1="45.65" y1="486.11" x2="45.65" y2="485.40" stroke="#000" stroke-width="0.7" />
<line x1="44.65" y1="485.40" x2="46.65" y2="485.40" stroke="#000" stroke-width="0.7" />
<rect x="53.25" y="476.50" width="5.90" height="12.10" fill="#000" stroke="none" stroke-width="0.8" />
<line x1="56.20" y1="476.50" x2="56.20" y2="474.37" stroke="#000" stroke-width="0.7" />
<line x1="55.20" y1="474.37" x2="57.20" y2="474.37" stroke="#000" stroke-width="0.7" />
<rect x="63.80" y="470.81" width="5.90" height="17.79" fill="#000" stroke="none" stroke-width="0.8" />
<line x1="66.75" y1="470.81" x2="66.75" y2="467.97" stroke="#000" stroke-width="0.7" />
<line x1="65.75" y1="467.97" x2="67.75" y2="467.97" stroke="#000" stroke-width="0.7" />
<rect x="74.35" y="455.87" width="5.90" height="32.73" fill="#000" stroke="none" stroke-width="0.8" />
<line x1="77.30" y1="455.87" x2="77.30" y2="450.18" stroke="#000" stroke-width="0.7" />
<line x1="76.30" y1="450.18" x2="78.30" y2="450.18" stroke="#000" stroke-width="0.7" />
<rect x="84.90" y="486.47" width="5.90" height="2.13" fill="#000" stroke="none" stroke-width="0.8" />
<line x1="87.85" y1="486.47" x2="87.85" y2="486.11" stroke="#000" stroke-width="0.7" />
<line x1="86.85" y1="486.11" x2="88.85" y2="486.11" stroke="#000" stroke-width="0.7" />
<rect x="95.45" y="486.82" width="5.90" height="1.78" fill="#000" stroke="none" stroke-width="0.8" />
<line x1="98.40" y1="486.82" x2="98.40" y2="486.47" stroke="#000" stroke-width="0.7" />
<line x1="97.40" y1="486.47" x2="99.40" y2="486.47" stroke="#000" stroke-width="0.7" />
<rect x="106.00" y="484.69" width="5.90" height="3.91" fill="#000" stroke="none" stroke-width="0.8" />
<line x1="108.95" y1="484.69" x2="108.95" y2="483.98" stroke="#000" stroke-width="0.7" />
<line x1="107.95" y1="483.98" x2="109.95" y2="483.98" stroke="#000" stroke-width="0.7" />
<rect x="116.55" y="483.26" width="5.90" height="5.34" fill="#000" stroke="none" stroke-width="0.8" />
<line x1="119.50" y1="483.26" x2="119.50" y2="482.55" stroke="#000" stroke-width="0.7" />
<line x1="118.50" y1="482.55" x2="120.50" y2="482.55" stroke="#000" stroke-width="0.7" />
<text x="0.00" y="0.00" font-size="6.1" text-anchor="middle" fill="#1a1a1a" font-weight="normal" stroke="#1a1a1a" stroke-width="0.12" transform="translate(23.0,465.80) rotate(-90)">PD-L1/β-actin</text>
<polyline points="55.80,451.00 55.80,446.80 97.10,446.80 97.10,450.90" fill="none" stroke="#333" stroke-width="0.8" stroke-linejoin="round" />
<text x="77.20" y="447.66" font-size="7.6" text-anchor="middle" fill="#111" font-weight="bold" stroke="#111" stroke-width="0.15">*</text>
<polyline points="66.70,445.00 66.70,441.30 107.30,441.30 107.30,444.80" fill="none" stroke="#333" stroke-width="0.8" stroke-linejoin="round" />
<text x="88.00" y="441.96" font-size="7.6" text-anchor="middle" fill="#111" font-weight="bold" stroke="#111" stroke-width="0.15">*</text>
<polyline points="76.80,439.60 76.80,435.50 117.90,435.50 117.90,439.30" fill="none" stroke="#333" stroke-width="0.8" stroke-linejoin="round" />
<text x="98.30" y="435.86" font-size="7.6" text-anchor="middle" fill="#111" font-weight="bold" stroke="#111" stroke-width="0.15">*</text>
<rect x="205.10" y="246.60" width="63.00" height="41.70" fill="#fff" stroke="#a8a8a8" stroke-width="0.6" />
<line x1="205.10" y1="246.60" x2="205.10" y2="288.30" stroke="#888" stroke-width="0.7" />
<line x1="205.10" y1="288.30" x2="268.10" y2="288.30" stroke="#888" stroke-width="0.7" />
<line x1="268.10" y1="246.60" x2="268.10" y2="288.30" stroke="#999" stroke-width="0.7" />
<line x1="204.20" y1="288.30" x2="205.10" y2="288.30" stroke="#888" stroke-width="0.35" />
<line x1="204.20" y1="285.61" x2="205.10" y2="285.61" stroke="#888" stroke-width="0.35" />
<line x1="204.20" y1="282.92" x2="205.10" y2="282.92" stroke="#888" stroke-width="0.35" />
<line x1="204.20" y1="280.23" x2="205.10" y2="280.23" stroke="#888" stroke-width="0.35" />
<line x1="204.20" y1="277.54" x2="205.10" y2="277.54" stroke="#888" stroke-width="0.35" />
<line x1="204.20" y1="274.85" x2="205.10" y2="274.85" stroke="#888" stroke-width="0.35" />
<line x1="204.20" y1="272.16" x2="205.10" y2="272.16" stroke="#888" stroke-width="0.35" />
<line x1="204.20" y1="269.47" x2="205.10" y2="269.47" stroke="#888" stroke-width="0.35" />
<line x1="204.20" y1="266.78" x2="205.10" y2="266.78" stroke="#888" stroke-width="0.35" />
<line x1="204.20" y1="264.09" x2="205.10" y2="264.09" stroke="#888" stroke-width="0.35" />
<line x1="204.20" y1="261.40" x2="205.10" y2="261.40" stroke="#888" stroke-width="0.35" />
<line x1="204.20" y1="258.71" x2="205.10" y2="258.71" stroke="#888" stroke-width="0.35" />
<line x1="204.20" y1="256.02" x2="205.10" y2="256.02" stroke="#888" stroke-width="0.35" />
<line x1="204.20" y1="253.33" x2="205.10" y2="253.33" stroke="#888" stroke-width="0.35" />
<line x1="204.20" y1="250.64" x2="205.10" y2="250.64" stroke="#888" stroke-width="0.35" />
<line x1="204.20" y1="247.95" x2="205.10" y2="247.95" stroke="#888" stroke-width="0.35" />
<line x1="206.10" y1="288.30" x2="206.10" y2="289.20" stroke="#888" stroke-width="0.35" />
<line x1="209.00" y1="288.30" x2="209.00" y2="289.20" stroke="#888" stroke-width="0.35" />
<line x1="211.91" y1="288.30" x2="211.91" y2="289.20" stroke="#888" stroke-width="0.35" />
<line x1="214.81" y1="288.30" x2="214.81" y2="289.20" stroke="#888" stroke-width="0.35" />
<line x1="217.72" y1="288.30" x2="217.72" y2="289.20" stroke="#888" stroke-width="0.35" />
<line x1="220.62" y1="288.30" x2="220.62" y2="289.20" stroke="#888" stroke-width="0.35" />
<line x1="223.53" y1="288.30" x2="223.53" y2="289.20" stroke="#888" stroke-width="0.35" />
<line x1="226.43" y1="288.30" x2="226.43" y2="289.20" stroke="#888" stroke-width="0.35" />
<line x1="229.34" y1="288.30" x2="229.34" y2="289.20" stroke="#888" stroke-width="0.35" />
<line x1="232.24" y1="288.30" x2="232.24" y2="289.20" stroke="#888" stroke-width="0.35" />
<line x1="235.15" y1="288.30" x2="235.15" y2="289.20" stroke="#888" stroke-width="0.35" />
<line x1="238.05" y1="288.30" x2="238.05" y2="289.20" stroke="#888" stroke-width="0.35" />
<line x1="240.96" y1="288.30" x2="240.96" y2="289.20" stroke="#888" stroke-width="0.35" />
<line x1="243.86" y1="288.30" x2="243.86" y2="289.20" stroke="#888" stroke-width="0.35" />
<line x1="246.77" y1="288.30" x2="246.77" y2="289.20" stroke="#888" stroke-width="0.35" />
<line x1="249.67" y1="288.30" x2="249.67" y2="289.20" stroke="#888" stroke-width="0.35" />
<line x1="252.58" y1="288.30" x2="252.58" y2="289.20" stroke="#888" stroke-width="0.35" />
<line x1="255.48" y1="288.30" x2="255.48" y2="289.20" stroke="#888" stroke-width="0.35" />
<line x1="258.39" y1="288.30" x2="258.39" y2="289.20" stroke="#888" stroke-width="0.35" />
<line x1="261.29" y1="288.30" x2="261.29" y2="289.20" stroke="#888" stroke-width="0.35" />
<line x1="264.20" y1="288.30" x2="264.20" y2="289.20" stroke="#888" stroke-width="0.35" />
<line x1="267.10" y1="288.30" x2="267.10" y2="289.20" stroke="#888" stroke-width="0.35" />
<polygon points="224.40,288.00 224.40,288.00 224.67,288.00 224.94,287.98 225.21,287.92 225.47,287.77 225.74,287.45 226.01,286.90 226.28,286.12 226.55,285.16 226.82,284.10 227.09,282.98 227.36,281.85 227.62,280.72 227.89,279.58 228.16,278.45 228.43,277.31 228.70,276.18 228.97,275.04 229.24,273.91 229.51,272.77 229.78,271.64 230.04,270.51 230.31,269.37 230.58,268.24 230.85,267.10 231.12,265.97 231.39,264.83 231.66,263.70 231.93,262.56 232.19,261.43 232.46,260.29 232.73,259.16 233.00,258.03 233.27,256.91 233.54,255.86 233.81,254.95 234.08,254.32 234.34,254.10 234.61,254.32 234.70,254.51 234.70,288.00" fill="#8c3cd8" stroke="none" stroke-width="0.8" />
<polygon points="234.70,288.00 234.70,254.51 234.88,254.91 235.15,255.73 235.42,256.66 235.69,257.63 235.96,258.61 236.22,259.59 236.49,260.57 236.76,261.55 237.03,262.53 237.30,263.50 237.57,264.47 237.84,265.45 238.11,266.41 238.38,267.38 238.64,268.34 238.91,269.31 239.18,270.27 239.45,271.22 239.72,272.18 239.99,273.13 240.26,274.08 240.53,275.02 240.79,275.97 241.06,276.91 241.33,277.84 241.60,278.77 241.87,279.70 242.14,280.62 242.41,281.53 242.68,282.44 242.94,283.34 243.21,284.23 243.48,285.10 243.75,285.91 244.02,286.63 244.29,287.21 244.56,287.61 244.83,287.84 245.09,287.95 245.36,287.99 245.63,288.00 245.90,288.00 245.90,288.00" fill="#f2145a" stroke="none" stroke-width="0.8" />
<polyline points="224.40,288.00 224.67,288.00 224.94,287.98 225.21,287.92 225.47,287.77 225.74,287.45 226.01,286.90 226.28,286.12 226.55,285.16 226.82,284.10 227.09,282.98 227.36,281.85 227.62,280.72 227.89,279.58 228.16,278.45 228.43,277.31 228.70,276.18 228.97,275.04 229.24,273.91 229.51,272.77 229.78,271.64 230.04,270.51 230.31,269.37 230.58,268.24 230.85,267.10 231.12,265.97 231.39,264.83 231.66,263.70 231.93,262.56 232.19,261.43 232.46,260.29 232.73,259.16 233.00,258.03 233.27,256.91 233.54,255.86 233.81,254.95 234.08,254.32 234.34,254.10 234.61,254.32" fill="none" stroke="#2828f0" stroke-width="0.7" stroke-linejoin="round" />
<line x1="240.70" y1="275.79" x2="262.10" y2="275.79" stroke="#f07090" stroke-width="0.5" stroke-dasharray="1.0,0.4"/>
<rect x="261.80" y="275.09" width="0.80" height="1.40" fill="#f07090" stroke="none" stroke-width="0.8" />
<rect x="234.60" y="271.39" width="3.60" height="2.20" fill="#fff" stroke="none" stroke-width="0.8" opacity="0.85"/>
<text x="234.90" y="273.29" font-size="2.5" text-anchor="start" fill="#f07090" font-weight="normal" stroke="#f07090" stroke-width="0.1" >P2 (xx.xx%)</text>
<text x="208.50" y="255.10" font-size="6.1" text-anchor="start" fill="#111" font-weight="normal" stroke="#111" stroke-width="0.2" >Veh</text>
<text x="264.20" y="255.40" font-size="6.2" text-anchor="end" fill="#f42c38" font-weight="normal" stroke="#f42c38" stroke-width="0.18" >47.38%</text>
<text x="236.60" y="245.60" font-size="2.4" text-anchor="middle" fill="#777" font-weight="normal" stroke="#777" stroke-width="0.1" >Veh_P2</text>
<text x="233.60" y="294.70" font-size="2.2" text-anchor="middle" fill="#777" font-weight="normal" stroke="#777" stroke-width="0.1" >FITC-A</text>
<text x="211.70" y="292.00" font-size="2.6" text-anchor="middle" fill="#666" font-weight="normal" stroke="#666" stroke-width="0.12" >0</text>
<text x="227.95" y="292.00" font-size="2.6" text-anchor="middle" fill="#666" font-weight="normal" stroke="#666" stroke-width="0.12" >10³</text>
<text x="241.20" y="292.00" font-size="2.6" text-anchor="middle" fill="#666" font-weight="normal" stroke="#666" stroke-width="0.12" >10⁴</text>
<text x="254.45" y="292.00" font-size="2.6" text-anchor="middle" fill="#666" font-weight="normal" stroke="#666" stroke-width="0.12" >10⁵</text>
<text x="267.70" y="292.00" font-size="2.6" text-anchor="middle" fill="#666" font-weight="normal" stroke="#666" stroke-width="0.12" >10⁶</text>
<text x="0.00" y="0.00" font-size="2.8" text-anchor="middle" fill="#555" font-weight="normal" stroke="#555" stroke-width="0.15" transform="translate(203.10,288.30) rotate(-90)">0</text>
<text x="0.00" y="0.00" font-size="2.8" text-anchor="middle" fill="#555" font-weight="normal" stroke="#555" stroke-width="0.15" transform="translate(203.10,275.73) rotate(-90)">10</text>
<text x="0.00" y="0.00" font-size="2.8" text-anchor="middle" fill="#555" font-weight="normal" stroke="#555" stroke-width="0.15" transform="translate(203.10,263.17) rotate(-90)">20</text>
<text x="0.00" y="0.00" font-size="2.8" text-anchor="middle" fill="#555" font-weight="normal" stroke="#555" stroke-width="0.15" transform="translate(203.10,250.60) rotate(-90)">30</text>
<text x="197.60" y="267.45" font-size="2.6" text-anchor="middle" fill="#666" font-weight="normal" stroke="#666" stroke-width="0.12" transform="rotate(-90 197.60 267.45)">Count</text>
<rect x="282.40" y="246.60" width="62.50" height="41.70" fill="#fff" stroke="#a8a8a8" stroke-width="0.6" />
<line x1="282.40" y1="246.60" x2="282.40" y2="288.30" stroke="#888" stroke-width="0.7" />
<line x1="282.40" y1="288.30" x2="344.90" y2="288.30" stroke="#888" stroke-width="0.7" />
<line x1="344.90" y1="246.60" x2="344.90" y2="288.30" stroke="#999" stroke-width="0.7" />
<line x1="281.50" y1="288.30" x2="282.40" y2="288.30" stroke="#888" stroke-width="0.35" />
<line x1="281.50" y1="285.61" x2="282.40" y2="285.61" stroke="#888" stroke-width="0.35" />
<line x1="281.50" y1="282.92" x2="282.40" y2="282.92" stroke="#888" stroke-width="0.35" />
<line x1="281.50" y1="280.23" x2="282.40" y2="280.23" stroke="#888" stroke-width="0.35" />
<line x1="281.50" y1="277.54" x2="282.40" y2="277.54" stroke="#888" stroke-width="0.35" />
<line x1="281.50" y1="274.85" x2="282.40" y2="274.85" stroke="#888" stroke-width="0.35" />
<line x1="281.50" y1="272.16" x2="282.40" y2="272.16" stroke="#888" stroke-width="0.35" />
<line x1="281.50" y1="269.47" x2="282.40" y2="269.47" stroke="#888" stroke-width="0.35" />
<line x1="281.50" y1="266.78" x2="282.40" y2="266.78" stroke="#888" stroke-width="0.35" />
<line x1="281.50" y1="264.09" x2="282.40" y2="264.09" stroke="#888" stroke-width="0.35" />
<line x1="281.50" y1="261.40" x2="282.40" y2="261.40" stroke="#888" stroke-width="0.35" />
<line x1="281.50" y1="258.71" x2="282.40" y2="258.71" stroke="#888" stroke-width="0.35" />
<line x1="281.50" y1="256.02" x2="282.40" y2="256.02" stroke="#888" stroke-width="0.35" />
<line x1="281.50" y1="253.33" x2="282.40" y2="253.33" stroke="#888" stroke-width="0.35" />
<line x1="281.50" y1="250.64" x2="282.40" y2="250.64" stroke="#888" stroke-width="0.35" />
<line x1="281.50" y1="247.95" x2="282.40" y2="247.95" stroke="#888" stroke-width="0.35" />
<line x1="283.40" y1="288.30" x2="283.40" y2="289.20" stroke="#888" stroke-width="0.35" />
<line x1="286.28" y1="288.30" x2="286.28" y2="289.20" stroke="#888" stroke-width="0.35" />
<line x1="289.16" y1="288.30" x2="289.16" y2="289.20" stroke="#888" stroke-width="0.35" />
<line x1="292.04" y1="288.30" x2="292.04" y2="289.20" stroke="#888" stroke-width="0.35" />
<line x1="294.92" y1="288.30" x2="294.92" y2="289.20" stroke="#888" stroke-width="0.35" />
<line x1="297.80" y1="288.30" x2="297.80" y2="289.20" stroke="#888" stroke-width="0.35" />
<line x1="300.69" y1="288.30" x2="300.69" y2="289.20" stroke="#888" stroke-width="0.35" />
<line x1="303.57" y1="288.30" x2="303.57" y2="289.20" stroke="#888" stroke-width="0.35" />
<line x1="306.45" y1="288.30" x2="306.45" y2="289.20" stroke="#888" stroke-width="0.35" />
<line x1="309.33" y1="288.30" x2="309.33" y2="289.20" stroke="#888" stroke-width="0.35" />
<line x1="312.21" y1="288.30" x2="312.21" y2="289.20" stroke="#888" stroke-width="0.35" />
<line x1="315.09" y1="288.30" x2="315.09" y2="289.20" stroke="#888" stroke-width="0.35" />
<line x1="317.97" y1="288.30" x2="317.97" y2="289.20" stroke="#888" stroke-width="0.35" />
<line x1="320.85" y1="288.30" x2="320.85" y2="289.20" stroke="#888" stroke-width="0.35" />
<line x1="323.73" y1="288.30" x2="323.73" y2="289.20" stroke="#888" stroke-width="0.35" />
<line x1="326.61" y1="288.30" x2="326.61" y2="289.20" stroke="#888" stroke-width="0.35" />
<line x1="329.50" y1="288.30" x2="329.50" y2="289.20" stroke="#888" stroke-width="0.35" />
<line x1="332.38" y1="288.30" x2="332.38" y2="289.20" stroke="#888" stroke-width="0.35" />
<line x1="335.26" y1="288.30" x2="335.26" y2="289.20" stroke="#888" stroke-width="0.35" />
<line x1="338.14" y1="288.30" x2="338.14" y2="289.20" stroke="#888" stroke-width="0.35" />
<line x1="341.02" y1="288.30" x2="341.02" y2="289.20" stroke="#888" stroke-width="0.35" />
<line x1="343.90" y1="288.30" x2="343.90" y2="289.20" stroke="#888" stroke-width="0.35" />
<polygon points="299.80,288.00 301.04,287.95 302.28,287.86 303.52,287.74 304.76,287.60 306.00,287.43 307.24,287.26 308.48,287.06 309.72,286.86 310.96,286.63 312.20,286.40 312.20,288.00" fill="#8c3cd8" stroke="none" stroke-width="0.8" />
<polyline points="299.80,288.00 301.04,287.95 302.28,287.86 303.52,287.74 304.76,287.60 306.00,287.43 307.24,287.26 308.48,287.06 309.72,286.86 310.96,286.63 312.20,286.40" fill="none" stroke="#2828f0" stroke-width="0.5" stroke-linejoin="round" />
<polygon points="307.70,288.00 307.70,288.00 307.93,287.98 308.16,287.93 308.39,287.76 308.62,287.35 308.86,286.57 309.09,285.29 309.32,283.51 309.55,281.38 309.78,279.12 310.01,276.93 310.24,274.90 310.47,273.05 310.71,271.36 310.94,269.80 311.17,268.33 311.40,266.94 311.63,265.61 311.86,264.34 311.90,264.14 311.90,288.00" fill="#8c3cd8" stroke="none" stroke-width="0.8" />
<polygon points="311.90,288.00 311.90,264.14 312.09,263.11 312.32,261.92 312.56,260.77 312.79,259.65 313.02,258.56 313.25,257.51 313.48,256.53 313.71,255.65 313.94,254.95 314.18,254.52 314.41,254.40 314.64,254.60 314.87,255.06 315.10,255.68 315.33,256.40 315.56,257.17 315.79,257.94 316.02,258.72 316.26,259.50 316.49,260.28 316.72,261.06 316.95,261.84 317.18,262.62 317.41,263.41 317.64,264.19 317.88,264.97 318.11,265.75 318.34,266.53 318.57,267.31 318.80,268.09 319.03,268.87 319.26,269.65 319.49,270.43 319.72,271.21 319.96,271.99 320.19,272.77 320.42,273.55 320.65,274.33 320.88,275.11 321.11,275.89 321.34,276.67 321.57,277.45 321.81,278.23 322.04,279.01 322.27,279.79 322.50,280.58 322.73,281.36 322.96,282.14 323.19,282.92 323.43,283.70 323.66,284.47 323.89,285.22 324.12,285.94 324.35,286.58 324.58,287.11 324.81,287.50 325.04,287.76 325.27,287.90 325.51,287.96 325.74,287.99 325.97,288.00 326.20,288.00 326.20,288.00" fill="#f2145a" stroke="none" stroke-width="0.8" />
<polyline points="307.70,288.00 307.93,287.98 308.16,287.93 308.39,287.76 308.62,287.35 308.86,286.57 309.09,285.29 309.32,283.51 309.55,281.38 309.78,279.12 310.01,276.93 310.24,274.90 310.47,273.05 310.71,271.36 310.94,269.80 311.17,268.33 311.40,266.94 311.63,265.61 311.86,264.34 312.09,263.11 312.32,261.92 312.56,260.77 312.79,259.65 313.02,258.56 313.25,257.51 313.48,256.53 313.71,255.65 313.94,254.95 314.18,254.52 314.41,254.40 314.64,254.60" fill="none" stroke="#2828f0" stroke-width="0.7" stroke-linejoin="round" />
<line x1="317.90" y1="275.79" x2="338.90" y2="275.79" stroke="#f07090" stroke-width="0.5" stroke-dasharray="1.0,0.4"/>
<rect x="338.60" y="275.09" width="0.80" height="1.40" fill="#f07090" stroke="none" stroke-width="0.8" />
<rect x="311.80" y="271.39" width="3.60" height="2.20" fill="#fff" stroke="none" stroke-width="0.8" opacity="0.85"/>
<text x="312.10" y="273.29" font-size="2.5" text-anchor="start" fill="#f07090" font-weight="normal" stroke="#f07090" stroke-width="0.1" >P2 (xx.xx%)</text>
<text x="285.80" y="255.10" font-size="6.1" text-anchor="start" fill="#111" font-weight="normal" stroke="#111" stroke-width="0.2" >5-FU</text>
<text x="341.00" y="255.40" font-size="6.2" text-anchor="end" fill="#f42c38" font-weight="normal" stroke="#f42c38" stroke-width="0.18" >84.15%</text>
<text x="313.65" y="245.60" font-size="2.4" text-anchor="middle" fill="#777" font-weight="normal" stroke="#777" stroke-width="0.1" >5FU10_P2</text>
<text x="310.65" y="294.70" font-size="2.2" text-anchor="middle" fill="#777" font-weight="normal" stroke="#777" stroke-width="0.1" >FITC-A</text>
<text x="289.00" y="292.00" font-size="2.6" text-anchor="middle" fill="#666" font-weight="normal" stroke="#666" stroke-width="0.12" >0</text>
<text x="305.12" y="292.00" font-size="2.6" text-anchor="middle" fill="#666" font-weight="normal" stroke="#666" stroke-width="0.12" >10³</text>
<text x="318.25" y="292.00" font-size="2.6" text-anchor="middle" fill="#666" font-weight="normal" stroke="#666" stroke-width="0.12" >10⁴</text>
<text x="331.38" y="292.00" font-size="2.6" text-anchor="middle" fill="#666" font-weight="normal" stroke="#666" stroke-width="0.12" >10⁵</text>
<text x="344.50" y="292.00" font-size="2.6" text-anchor="middle" fill="#666" font-weight="normal" stroke="#666" stroke-width="0.12" >10⁶</text>
<text x="0.00" y="0.00" font-size="2.8" text-anchor="middle" fill="#555" font-weight="normal" stroke="#555" stroke-width="0.15" transform="translate(280.40,288.30) rotate(-90)">0</text>
<text x="0.00" y="0.00" font-size="2.8" text-anchor="middle" fill="#555" font-weight="normal" stroke="#555" stroke-width="0.15" transform="translate(280.40,275.73) rotate(-90)">10</text>
<text x="0.00" y="0.00" font-size="2.8" text-anchor="middle" fill="#555" font-weight="normal" stroke="#555" stroke-width="0.15" transform="translate(280.40,263.17) rotate(-90)">20</text>
<text x="0.00" y="0.00" font-size="2.8" text-anchor="middle" fill="#555" font-weight="normal" stroke="#555" stroke-width="0.15" transform="translate(280.40,250.60) rotate(-90)">30</text>
<text x="274.90" y="267.45" font-size="2.6" text-anchor="middle" fill="#666" font-weight="normal" stroke="#666" stroke-width="0.12" transform="rotate(-90 274.90 267.45)">Count</text>
<rect x="205.10" y="298.80" width="63.00" height="41.40" fill="#fff" stroke="#a8a8a8" stroke-width="0.6" />
<line x1="205.10" y1="298.80" x2="205.10" y2="340.20" stroke="#888" stroke-width="0.7" />
<line x1="205.10" y1="340.20" x2="268.10" y2="340.20" stroke="#888" stroke-width="0.7" />
<line x1="268.10" y1="298.80" x2="268.10" y2="340.20" stroke="#999" stroke-width="0.7" />
<line x1="204.20" y1="340.20" x2="205.10" y2="340.20" stroke="#888" stroke-width="0.35" />
<line x1="204.20" y1="337.53" x2="205.10" y2="337.53" stroke="#888" stroke-width="0.35" />
<line x1="204.20" y1="334.86" x2="205.10" y2="334.86" stroke="#888" stroke-width="0.35" />
<line x1="204.20" y1="332.19" x2="205.10" y2="332.19" stroke="#888" stroke-width="0.35" />
<line x1="204.20" y1="329.52" x2="205.10" y2="329.52" stroke="#888" stroke-width="0.35" />
<line x1="204.20" y1="326.85" x2="205.10" y2="326.85" stroke="#888" stroke-width="0.35" />
<line x1="204.20" y1="324.17" x2="205.10" y2="324.17" stroke="#888" stroke-width="0.35" />
<line x1="204.20" y1="321.50" x2="205.10" y2="321.50" stroke="#888" stroke-width="0.35" />
<line x1="204.20" y1="318.83" x2="205.10" y2="318.83" stroke="#888" stroke-width="0.35" />
<line x1="204.20" y1="316.16" x2="205.10" y2="316.16" stroke="#888" stroke-width="0.35" />
<line x1="204.20" y1="313.49" x2="205.10" y2="313.49" stroke="#888" stroke-width="0.35" />
<line x1="204.20" y1="310.82" x2="205.10" y2="310.82" stroke="#888" stroke-width="0.35" />
<line x1="204.20" y1="308.15" x2="205.10" y2="308.15" stroke="#888" stroke-width="0.35" />
<line x1="204.20" y1="305.48" x2="205.10" y2="305.48" stroke="#888" stroke-width="0.35" />
<line x1="204.20" y1="302.81" x2="205.10" y2="302.81" stroke="#888" stroke-width="0.35" />
<line x1="204.20" y1="300.14" x2="205.10" y2="300.14" stroke="#888" stroke-width="0.35" />
<line x1="206.10" y1="340.20" x2="206.10" y2="341.10" stroke="#888" stroke-width="0.35" />
<line x1="209.00" y1="340.20" x2="209.00" y2="341.10" stroke="#888" stroke-width="0.35" />
<line x1="211.91" y1="340.20" x2="211.91" y2="341.10" stroke="#888" stroke-width="0.35" />
<line x1="214.81" y1="340.20" x2="214.81" y2="341.10" stroke="#888" stroke-width="0.35" />
<line x1="217.72" y1="340.20" x2="217.72" y2="341.10" stroke="#888" stroke-width="0.35" />
<line x1="220.62" y1="340.20" x2="220.62" y2="341.10" stroke="#888" stroke-width="0.35" />
<line x1="223.53" y1="340.20" x2="223.53" y2="341.10" stroke="#888" stroke-width="0.35" />
<line x1="226.43" y1="340.20" x2="226.43" y2="341.10" stroke="#888" stroke-width="0.35" />
<line x1="229.34" y1="340.20" x2="229.34" y2="341.10" stroke="#888" stroke-width="0.35" />
<line x1="232.24" y1="340.20" x2="232.24" y2="341.10" stroke="#888" stroke-width="0.35" />
<line x1="235.15" y1="340.20" x2="235.15" y2="341.10" stroke="#888" stroke-width="0.35" />
<line x1="238.05" y1="340.20" x2="238.05" y2="341.10" stroke="#888" stroke-width="0.35" />
<line x1="240.96" y1="340.20" x2="240.96" y2="341.10" stroke="#888" stroke-width="0.35" />
<line x1="243.86" y1="340.20" x2="243.86" y2="341.10" stroke="#888" stroke-width="0.35" />
<line x1="246.77" y1="340.20" x2="246.77" y2="341.10" stroke="#888" stroke-width="0.35" />
<line x1="249.67" y1="340.20" x2="249.67" y2="341.10" stroke="#888" stroke-width="0.35" />
<line x1="252.58" y1="340.20" x2="252.58" y2="341.10" stroke="#888" stroke-width="0.35" />
<line x1="255.48" y1="340.20" x2="255.48" y2="341.10" stroke="#888" stroke-width="0.35" />
<line x1="258.39" y1="340.20" x2="258.39" y2="341.10" stroke="#888" stroke-width="0.35" />
<line x1="261.29" y1="340.20" x2="261.29" y2="341.10" stroke="#888" stroke-width="0.35" />
<line x1="264.20" y1="340.20" x2="264.20" y2="341.10" stroke="#888" stroke-width="0.35" />
<line x1="267.10" y1="340.20" x2="267.10" y2="341.10" stroke="#888" stroke-width="0.35" />
<polygon points="226.70,339.90 227.45,339.86 228.20,339.78 228.95,339.69 229.70,339.57 230.45,339.44 231.20,339.30 231.95,339.14 232.70,338.97 233.45,338.79 234.20,338.60 234.20,339.90" fill="#8c3cd8" stroke="none" stroke-width="0.8" />
<polyline points="226.70,339.90 227.45,339.86 228.20,339.78 228.95,339.69 229.70,339.57 230.45,339.44 231.20,339.30 231.95,339.14 232.70,338.97 233.45,338.79 234.20,338.60" fill="none" stroke="#2828f0" stroke-width="0.5" stroke-linejoin="round" />
<polygon points="229.70,339.90 229.70,339.90 229.92,339.90 230.14,339.88 230.36,339.83 230.57,339.71 230.79,339.45 231.01,338.99 231.23,338.28 231.45,337.32 231.67,336.15 231.89,334.84 232.11,333.47 232.32,332.09 232.54,330.72 232.76,329.36 232.98,328.03 233.20,326.71 233.42,325.41 233.64,324.13 233.86,322.85 234.07,321.59 234.29,320.34 234.51,319.10 234.73,317.86 234.95,316.63 235.00,316.35 235.00,339.90" fill="#8c3cd8" stroke="none" stroke-width="0.8" />
<polygon points="235.00,339.90 235.00,316.35 235.17,315.41 235.39,314.20 235.61,312.99 235.82,311.79 236.04,310.60 236.26,309.44 236.48,308.33 236.70,307.33 236.92,306.53 237.14,306.03 237.36,305.90 237.57,306.17 237.79,306.77 238.01,307.62 238.23,308.61 238.45,309.66 238.67,310.74 238.89,311.82 239.11,312.90 239.32,313.97 239.54,315.03 239.76,316.09 239.98,317.13 240.20,318.17 240.42,319.20 240.64,320.23 240.86,321.24 241.07,322.25 241.29,323.24 241.51,324.23 241.73,325.20 241.95,326.16 242.17,327.12 242.39,328.06 242.61,328.98 242.82,329.90 243.04,330.80 243.26,331.68 243.48,332.55 243.70,333.40 243.92,334.24 244.14,335.05 244.36,335.83 244.57,336.58 244.79,337.29 245.01,337.95 245.23,338.52 245.45,339.00 245.67,339.36 245.89,339.61 246.11,339.76 246.32,339.84 246.54,339.88 246.76,339.89 246.98,339.90 247.20,339.90 247.20,339.90" fill="#f2145a" stroke="none" stroke-width="0.8" />
<polyline points="229.70,339.90 229.92,339.90 230.14,339.88 230.36,339.83 230.57,339.71 230.79,339.45 231.01,338.99 231.23,338.28 231.45,337.32 231.67,336.15 231.89,334.84 232.11,333.47 232.32,332.09 232.54,330.72 232.76,329.36 232.98,328.03 233.20,326.71 233.42,325.41 233.64,324.13 233.86,322.85 234.07,321.59 234.29,320.34 234.51,319.10 234.73,317.86 234.95,316.63 235.17,315.41 235.39,314.20 235.61,312.99 235.82,311.79 236.04,310.60 236.26,309.44 236.48,308.33 236.70,307.33 236.92,306.53 237.14,306.03 237.36,305.90 237.57,306.17 237.79,306.77" fill="none" stroke="#2828f0" stroke-width="0.7" stroke-linejoin="round" />
<line x1="241.00" y1="327.78" x2="262.10" y2="327.78" stroke="#f07090" stroke-width="0.5" stroke-dasharray="1.0,0.4"/>
<rect x="261.80" y="327.08" width="0.80" height="1.40" fill="#f07090" stroke="none" stroke-width="0.8" />
<rect x="234.90" y="323.38" width="3.60" height="2.20" fill="#fff" stroke="none" stroke-width="0.8" opacity="0.85"/>
<text x="235.20" y="325.28" font-size="2.5" text-anchor="start" fill="#f07090" font-weight="normal" stroke="#f07090" stroke-width="0.1" >P2 (xx.xx%)</text>
<text x="208.50" y="307.30" font-size="6.1" text-anchor="start" fill="#111" font-weight="normal" stroke="#111" stroke-width="0.2" >5+R</text>
<text x="264.20" y="307.60" font-size="6.2" text-anchor="end" fill="#f42c38" font-weight="normal" stroke="#f42c38" stroke-width="0.18" >81.02%</text>
<text x="236.60" y="297.80" font-size="2.4" text-anchor="middle" fill="#777" font-weight="normal" stroke="#777" stroke-width="0.1" >5FU10+Refa_P2</text>
<text x="233.60" y="346.60" font-size="2.2" text-anchor="middle" fill="#777" font-weight="normal" stroke="#777" stroke-width="0.1" >FITC-A</text>
<text x="211.70" y="343.90" font-size="2.6" text-anchor="middle" fill="#666" font-weight="normal" stroke="#666" stroke-width="0.12" >0</text>
<text x="227.95" y="343.90" font-size="2.6" text-anchor="middle" fill="#666" font-weight="normal" stroke="#666" stroke-width="0.12" >10³</text>
<text x="241.20" y="343.90" font-size="2.6" text-anchor="middle" fill="#666" font-weight="normal" stroke="#666" stroke-width="0.12" >10⁴</text>
<text x="254.45" y="343.90" font-size="2.6" text-anchor="middle" fill="#666" font-weight="normal" stroke="#666" stroke-width="0.12" >10⁵</text>
<text x="267.70" y="343.90" font-size="2.6" text-anchor="middle" fill="#666" font-weight="normal" stroke="#666" stroke-width="0.12" >10⁶</text>
<text x="0.00" y="0.00" font-size="2.8" text-anchor="middle" fill="#555" font-weight="normal" stroke="#555" stroke-width="0.15" transform="translate(203.10,340.20) rotate(-90)">0</text>
<text x="0.00" y="0.00" font-size="2.8" text-anchor="middle" fill="#555" font-weight="normal" stroke="#555" stroke-width="0.15" transform="translate(203.10,327.73) rotate(-90)">10</text>
<text x="0.00" y="0.00" font-size="2.8" text-anchor="middle" fill="#555" font-weight="normal" stroke="#555" stroke-width="0.15" transform="translate(203.10,315.27) rotate(-90)">20</text>
<text x="0.00" y="0.00" font-size="2.8" text-anchor="middle" fill="#555" font-weight="normal" stroke="#555" stroke-width="0.15" transform="translate(203.10,302.80) rotate(-90)">30</text>
<text x="197.60" y="319.50" font-size="2.6" text-anchor="middle" fill="#666" font-weight="normal" stroke="#666" stroke-width="0.12" transform="rotate(-90 197.60 319.50)">Count</text>
<rect x="282.40" y="299.00" width="62.50" height="41.20" fill="#fff" stroke="#a8a8a8" stroke-width="0.6" />
<line x1="282.40" y1="299.00" x2="282.40" y2="340.20" stroke="#888" stroke-width="0.7" />
<line x1="282.40" y1="340.20" x2="344.90" y2="340.20" stroke="#888" stroke-width="0.7" />
<line x1="344.90" y1="299.00" x2="344.90" y2="340.20" stroke="#999" stroke-width="0.7" />
<line x1="281.50" y1="340.20" x2="282.40" y2="340.20" stroke="#888" stroke-width="0.35" />
<line x1="281.50" y1="337.54" x2="282.40" y2="337.54" stroke="#888" stroke-width="0.35" />
<line x1="281.50" y1="334.88" x2="282.40" y2="334.88" stroke="#888" stroke-width="0.35" />
<line x1="281.50" y1="332.23" x2="282.40" y2="332.23" stroke="#888" stroke-width="0.35" />
<line x1="281.50" y1="329.57" x2="282.40" y2="329.57" stroke="#888" stroke-width="0.35" />
<line x1="281.50" y1="326.91" x2="282.40" y2="326.91" stroke="#888" stroke-width="0.35" />
<line x1="281.50" y1="324.25" x2="282.40" y2="324.25" stroke="#888" stroke-width="0.35" />
<line x1="281.50" y1="321.59" x2="282.40" y2="321.59" stroke="#888" stroke-width="0.35" />
<line x1="281.50" y1="318.94" x2="282.40" y2="318.94" stroke="#888" stroke-width="0.35" />
<line x1="281.50" y1="316.28" x2="282.40" y2="316.28" stroke="#888" stroke-width="0.35" />
<line x1="281.50" y1="313.62" x2="282.40" y2="313.62" stroke="#888" stroke-width="0.35" />
<line x1="281.50" y1="310.96" x2="282.40" y2="310.96" stroke="#888" stroke-width="0.35" />
<line x1="281.50" y1="308.30" x2="282.40" y2="308.30" stroke="#888" stroke-width="0.35" />
<line x1="281.50" y1="305.65" x2="282.40" y2="305.65" stroke="#888" stroke-width="0.35" />
<line x1="281.50" y1="302.99" x2="282.40" y2="302.99" stroke="#888" stroke-width="0.35" />
<line x1="281.50" y1="300.33" x2="282.40" y2="300.33" stroke="#888" stroke-width="0.35" />
<line x1="283.40" y1="340.20" x2="283.40" y2="341.10" stroke="#888" stroke-width="0.35" />
<line x1="286.28" y1="340.20" x2="286.28" y2="341.10" stroke="#888" stroke-width="0.35" />
<line x1="289.16" y1="340.20" x2="289.16" y2="341.10" stroke="#888" stroke-width="0.35" />
<line x1="292.04" y1="340.20" x2="292.04" y2="341.10" stroke="#888" stroke-width="0.35" />
<line x1="294.92" y1="340.20" x2="294.92" y2="341.10" stroke="#888" stroke-width="0.35" />
<line x1="297.80" y1="340.20" x2="297.80" y2="341.10" stroke="#888" stroke-width="0.35" />
<line x1="300.69" y1="340.20" x2="300.69" y2="341.10" stroke="#888" stroke-width="0.35" />
<line x1="303.57" y1="340.20" x2="303.57" y2="341.10" stroke="#888" stroke-width="0.35" />
<line x1="306.45" y1="340.20" x2="306.45" y2="341.10" stroke="#888" stroke-width="0.35" />
<line x1="309.33" y1="340.20" x2="309.33" y2="341.10" stroke="#888" stroke-width="0.35" />
<line x1="312.21" y1="340.20" x2="312.21" y2="341.10" stroke="#888" stroke-width="0.35" />
<line x1="315.09" y1="340.20" x2="315.09" y2="341.10" stroke="#888" stroke-width="0.35" />
<line x1="317.97" y1="340.20" x2="317.97" y2="341.10" stroke="#888" stroke-width="0.35" />
<line x1="320.85" y1="340.20" x2="320.85" y2="341.10" stroke="#888" stroke-width="0.35" />
<line x1="323.73" y1="340.20" x2="323.73" y2="341.10" stroke="#888" stroke-width="0.35" />
<line x1="326.61" y1="340.20" x2="326.61" y2="341.10" stroke="#888" stroke-width="0.35" />
<line x1="329.50" y1="340.20" x2="329.50" y2="341.10" stroke="#888" stroke-width="0.35" />
<line x1="332.38" y1="340.20" x2="332.38" y2="341.10" stroke="#888" stroke-width="0.35" />
<line x1="335.26" y1="340.20" x2="335.26" y2="341.10" stroke="#888" stroke-width="0.35" />
<line x1="338.14" y1="340.20" x2="338.14" y2="341.10" stroke="#888" stroke-width="0.35" />
<line x1="341.02" y1="340.20" x2="341.02" y2="341.10" stroke="#888" stroke-width="0.35" />
<line x1="343.90" y1="340.20" x2="343.90" y2="341.10" stroke="#888" stroke-width="0.35" />
<polygon points="301.90,339.90 301.90,339.90 302.15,339.90 302.41,339.89 302.66,339.85 302.91,339.76 303.17,339.56 303.42,339.19 303.68,338.64 303.93,337.91 304.18,337.04 304.44,336.09 304.69,335.09 304.94,334.06 305.20,333.01 305.45,331.95 305.71,330.86 305.96,329.77 306.21,328.66 306.47,327.55 306.72,326.42 306.97,325.29 307.23,324.14 307.48,322.99 307.74,321.84 307.99,320.67 308.24,319.50 308.50,318.32 308.75,317.14 309.00,315.95 309.26,314.76 309.51,313.56 309.77,312.35 310.02,311.15 310.27,309.98 310.53,308.88 310.78,307.97 311.03,307.38 311.29,307.20 311.54,307.46 311.80,308.07 311.90,308.41 311.90,339.90" fill="#8c3cd8" stroke="none" stroke-width="0.8" />
<polygon points="311.90,339.90 311.90,308.41 312.05,308.91 312.30,309.85 312.56,310.83 312.81,311.83 313.06,312.82 313.32,313.81 313.57,314.79 313.83,315.77 314.08,316.75 314.33,317.72 314.59,318.69 314.84,319.66 315.09,320.62 315.35,321.58 315.60,322.53 315.86,323.48 316.11,324.42 316.36,325.36 316.62,326.29 316.87,327.22 317.12,328.14 317.38,329.05 317.63,329.96 317.89,330.85 318.14,331.74 318.39,332.63 318.65,333.50 318.90,334.36 319.15,335.20 319.41,336.03 319.66,336.84 319.92,337.60 320.17,338.29 320.42,338.88 320.68,339.33 320.93,339.62 321.19,339.79 321.44,339.86 321.69,339.89 321.95,339.90 322.20,339.90 322.20,339.90" fill="#f2145a" stroke="none" stroke-width="0.8" />
<polyline points="301.90,339.90 302.15,339.90 302.41,339.89 302.66,339.85 302.91,339.76 303.17,339.56 303.42,339.19 303.68,338.64 303.93,337.91 304.18,337.04 304.44,336.09 304.69,335.09 304.94,334.06 305.20,333.01 305.45,331.95 305.71,330.86 305.96,329.77 306.21,328.66 306.47,327.55 306.72,326.42 306.97,325.29 307.23,324.14 307.48,322.99 307.74,321.84 307.99,320.67 308.24,319.50 308.50,318.32 308.75,317.14 309.00,315.95 309.26,314.76 309.51,313.56 309.77,312.35 310.02,311.15 310.27,309.98 310.53,308.88 310.78,307.97 311.03,307.38 311.29,307.20 311.54,307.46" fill="none" stroke="#2828f0" stroke-width="0.7" stroke-linejoin="round" />
<line x1="317.90" y1="327.84" x2="338.90" y2="327.84" stroke="#f07090" stroke-width="0.5" stroke-dasharray="1.0,0.4"/>
<rect x="338.60" y="327.14" width="0.80" height="1.40" fill="#f07090" stroke="none" stroke-width="0.8" />
<rect x="311.80" y="323.44" width="3.60" height="2.20" fill="#fff" stroke="none" stroke-width="0.8" opacity="0.85"/>
<text x="312.10" y="325.34" font-size="2.5" text-anchor="start" fill="#f07090" font-weight="normal" stroke="#f07090" stroke-width="0.1" >P2 (xx.xx%)</text>
<text x="285.80" y="307.50" font-size="6.1" text-anchor="start" fill="#111" font-weight="normal" stroke="#111" stroke-width="0.2" >Re</text>
<text x="341.00" y="307.80" font-size="6.2" text-anchor="end" fill="#f42c38" font-weight="normal" stroke="#f42c38" stroke-width="0.18" >47.45%</text>
<text x="313.65" y="298.00" font-size="2.4" text-anchor="middle" fill="#777" font-weight="normal" stroke="#777" stroke-width="0.1" >Refa_P2</text>
<text x="310.65" y="346.60" font-size="2.2" text-anchor="middle" fill="#777" font-weight="normal" stroke="#777" stroke-width="0.1" >FITC-A</text>
<text x="289.00" y="343.90" font-size="2.6" text-anchor="middle" fill="#666" font-weight="normal" stroke="#666" stroke-width="0.12" >0</text>
<text x="305.12" y="343.90" font-size="2.6" text-anchor="middle" fill="#666" font-weight="normal" stroke="#666" stroke-width="0.12" >10³</text>
<text x="318.25" y="343.90" font-size="2.6" text-anchor="middle" fill="#666" font-weight="normal" stroke="#666" stroke-width="0.12" >10⁴</text>
<text x="331.38" y="343.90" font-size="2.6" text-anchor="middle" fill="#666" font-weight="normal" stroke="#666" stroke-width="0.12" >10⁵</text>
<text x="344.50" y="343.90" font-size="2.6" text-anchor="middle" fill="#666" font-weight="normal" stroke="#666" stroke-width="0.12" >10⁶</text>
<text x="0.00" y="0.00" font-size="2.8" text-anchor="middle" fill="#555" font-weight="normal" stroke="#555" stroke-width="0.15" transform="translate(280.40,340.20) rotate(-90)">0</text>
<text x="0.00" y="0.00" font-size="2.8" text-anchor="middle" fill="#555" font-weight="normal" stroke="#555" stroke-width="0.15" transform="translate(280.40,327.80) rotate(-90)">10</text>
<text x="0.00" y="0.00" font-size="2.8" text-anchor="middle" fill="#555" font-weight="normal" stroke="#555" stroke-width="0.15" transform="translate(280.40,315.40) rotate(-90)">20</text>
<text x="0.00" y="0.00" font-size="2.8" text-anchor="middle" fill="#555" font-weight="normal" stroke="#555" stroke-width="0.15" transform="translate(280.40,303.00) rotate(-90)">30</text>
<text x="274.90" y="319.60" font-size="2.6" text-anchor="middle" fill="#666" font-weight="normal" stroke="#666" stroke-width="0.12" transform="rotate(-90 274.90 319.60)">Count</text>
<line x1="205.80" y1="353.50" x2="245.80" y2="353.50" stroke="#222" stroke-width="1.0" />
<text x="274.00" y="355.40" font-size="6.3" text-anchor="middle" fill="#1a1a1a" font-weight="normal" stroke="#1a1a1a" stroke-width="0.2" >PD-L1 intensity</text>
<line x1="303.00" y1="353.50" x2="343.00" y2="353.50" stroke="#333" stroke-width="1.0" />
<polygon points="345.30,353.50 341.80,351.40 342.90,353.50 341.80,355.60" fill="#111" stroke="#111" stroke-width="0.3" />
<rect x="205.10" y="378.80" width="63.00" height="41.40" fill="#fff" stroke="#a8a8a8" stroke-width="0.6" />
<line x1="205.10" y1="378.80" x2="205.10" y2="420.20" stroke="#888" stroke-width="0.7" />
<line x1="205.10" y1="420.20" x2="268.10" y2="420.20" stroke="#888" stroke-width="0.7" />
<line x1="268.10" y1="378.80" x2="268.10" y2="420.20" stroke="#999" stroke-width="0.7" />
<line x1="204.20" y1="420.20" x2="205.10" y2="420.20" stroke="#888" stroke-width="0.35" />
<line x1="204.20" y1="417.53" x2="205.10" y2="417.53" stroke="#888" stroke-width="0.35" />
<line x1="204.20" y1="414.86" x2="205.10" y2="414.86" stroke="#888" stroke-width="0.35" />
<line x1="204.20" y1="412.19" x2="205.10" y2="412.19" stroke="#888" stroke-width="0.35" />
<line x1="204.20" y1="409.52" x2="205.10" y2="409.52" stroke="#888" stroke-width="0.35" />
<line x1="204.20" y1="406.85" x2="205.10" y2="406.85" stroke="#888" stroke-width="0.35" />
<line x1="204.20" y1="404.17" x2="205.10" y2="404.17" stroke="#888" stroke-width="0.35" />
<line x1="204.20" y1="401.50" x2="205.10" y2="401.50" stroke="#888" stroke-width="0.35" />
<line x1="204.20" y1="398.83" x2="205.10" y2="398.83" stroke="#888" stroke-width="0.35" />
<line x1="204.20" y1="396.16" x2="205.10" y2="396.16" stroke="#888" stroke-width="0.35" />
<line x1="204.20" y1="393.49" x2="205.10" y2="393.49" stroke="#888" stroke-width="0.35" />
<line x1="204.20" y1="390.82" x2="205.10" y2="390.82" stroke="#888" stroke-width="0.35" />
<line x1="204.20" y1="388.15" x2="205.10" y2="388.15" stroke="#888" stroke-width="0.35" />
<line x1="204.20" y1="385.48" x2="205.10" y2="385.48" stroke="#888" stroke-width="0.35" />
<line x1="204.20" y1="382.81" x2="205.10" y2="382.81" stroke="#888" stroke-width="0.35" />
<line x1="204.20" y1="380.14" x2="205.10" y2="380.14" stroke="#888" stroke-width="0.35" />
<line x1="206.10" y1="420.20" x2="206.10" y2="421.10" stroke="#888" stroke-width="0.35" />
<line x1="209.00" y1="420.20" x2="209.00" y2="421.10" stroke="#888" stroke-width="0.35" />
<line x1="211.91" y1="420.20" x2="211.91" y2="421.10" stroke="#888" stroke-width="0.35" />
<line x1="214.81" y1="420.20" x2="214.81" y2="421.10" stroke="#888" stroke-width="0.35" />
<line x1="217.72" y1="420.20" x2="217.72" y2="421.10" stroke="#888" stroke-width="0.35" />
<line x1="220.62" y1="420.20" x2="220.62" y2="421.10" stroke="#888" stroke-width="0.35" />
<line x1="223.53" y1="420.20" x2="223.53" y2="421.10" stroke="#888" stroke-width="0.35" />
<line x1="226.43" y1="420.20" x2="226.43" y2="421.10" stroke="#888" stroke-width="0.35" />
<line x1="229.34" y1="420.20" x2="229.34" y2="421.10" stroke="#888" stroke-width="0.35" />
<line x1="232.24" y1="420.20" x2="232.24" y2="421.10" stroke="#888" stroke-width="0.35" />
<line x1="235.15" y1="420.20" x2="235.15" y2="421.10" stroke="#888" stroke-width="0.35" />
<line x1="238.05" y1="420.20" x2="238.05" y2="421.10" stroke="#888" stroke-width="0.35" />
<line x1="240.96" y1="420.20" x2="240.96" y2="421.10" stroke="#888" stroke-width="0.35" />
<line x1="243.86" y1="420.20" x2="243.86" y2="421.10" stroke="#888" stroke-width="0.35" />
<line x1="246.77" y1="420.20" x2="246.77" y2="421.10" stroke="#888" stroke-width="0.35" />
<line x1="249.67" y1="420.20" x2="249.67" y2="421.10" stroke="#888" stroke-width="0.35" />
<line x1="252.58" y1="420.20" x2="252.58" y2="421.10" stroke="#888" stroke-width="0.35" />
<line x1="255.48" y1="420.20" x2="255.48" y2="421.10" stroke="#888" stroke-width="0.35" />
<line x1="258.39" y1="420.20" x2="258.39" y2="421.10" stroke="#888" stroke-width="0.35" />
<line x1="261.29" y1="420.20" x2="261.29" y2="421.10" stroke="#888" stroke-width="0.35" />
<line x1="264.20" y1="420.20" x2="264.20" y2="421.10" stroke="#888" stroke-width="0.35" />
<line x1="267.10" y1="420.20" x2="267.10" y2="421.10" stroke="#888" stroke-width="0.35" />
<polygon points="223.10,419.90 223.10,419.90 223.38,419.90 223.66,419.89 223.94,419.85 224.22,419.75 224.50,419.53 224.78,419.14 225.06,418.57 225.34,417.86 225.62,417.05 225.90,416.18 226.18,415.27 226.46,414.33 226.74,413.36 227.02,412.38 227.30,411.37 227.58,410.35 227.86,409.32 228.14,408.27 228.42,407.21 228.70,406.14 228.98,405.05 229.26,403.96 229.54,402.85 229.82,401.74 230.10,400.62 230.38,399.48 230.66,398.34 230.94,397.20 231.22,396.04 231.50,394.88 231.78,393.71 232.06,392.53 232.34,391.35 232.62,390.16 232.90,388.99 233.18,387.89 233.46,386.98 233.74,386.41 233.90,386.37 233.90,419.90" fill="#f46468" stroke="none" stroke-width="0.8" />
<polygon points="233.90,419.90 233.90,386.37 234.02,386.33 234.30,386.74 234.58,387.52 234.86,388.50 235.14,389.57 235.42,390.67 235.70,391.76 235.98,392.85 236.26,393.93 236.54,395.01 236.82,396.08 237.10,397.14 237.38,398.20 237.66,399.25 237.94,400.30 238.22,401.33 238.50,402.36 238.78,403.38 239.06,404.40 239.34,405.40 239.62,406.40 239.90,407.38 240.18,408.36 240.46,409.32 240.74,410.28 241.02,411.22 241.30,412.14 241.58,413.06 241.86,413.95 242.14,414.83 242.42,415.69 242.70,416.52 242.98,417.31 243.26,418.05 243.54,418.69 243.82,419.21 244.10,419.56 244.38,419.76 244.66,419.86 244.94,419.89 245.22,419.90 245.50,419.90 245.50,419.90" fill="#7a34c8" stroke="none" stroke-width="0.8" />
<polyline points="233.46,386.98 233.74,386.41 234.02,386.33 234.30,386.74 234.58,387.52 234.86,388.50 235.14,389.57 235.42,390.67 235.70,391.76 235.98,392.85 236.26,393.93 236.54,395.01 236.82,396.08 237.10,397.14 237.38,398.20 237.66,399.25 237.94,400.30 238.22,401.33 238.50,402.36 238.78,403.38 239.06,404.40 239.34,405.40 239.62,406.40 239.90,407.38 240.18,408.36 240.46,409.32 240.74,410.28 241.02,411.22 241.30,412.14 241.58,413.06 241.86,413.95 242.14,414.83 242.42,415.69 242.70,416.52 242.98,417.31 243.26,418.05 243.54,418.69 243.82,419.21 244.10,419.56 244.38,419.76 244.66,419.86 244.94,419.89 245.22,419.90 245.50,419.90" fill="none" stroke="#3030f0" stroke-width="0.7" stroke-linejoin="round" />
<line x1="239.90" y1="405.30" x2="267.60" y2="405.30" stroke="#9090f4" stroke-width="0.75" />
<rect x="261.80" y="404.60" width="0.80" height="1.40" fill="#7878f0" stroke="none" stroke-width="0.8" />
<rect x="233.80" y="400.90" width="3.60" height="2.20" fill="#fff" stroke="none" stroke-width="0.8" opacity="0.85"/>
<text x="234.10" y="402.80" font-size="2.5" text-anchor="start" fill="#7878f0" font-weight="normal" stroke="#7878f0" stroke-width="0.1" >P2 (xx.xx%)</text>
<text x="208.50" y="387.30" font-size="6.1" text-anchor="start" fill="#111" font-weight="normal" stroke="#111" stroke-width="0.2" >Veh</text>
<text x="264.20" y="387.60" font-size="6.2" text-anchor="end" fill="#f42c38" font-weight="normal" stroke="#f42c38" stroke-width="0.18" >51.60%</text>
<text x="236.60" y="377.80" font-size="2.4" text-anchor="middle" fill="#777" font-weight="normal" stroke="#777" stroke-width="0.1" >Veh_P1</text>
<text x="233.60" y="426.60" font-size="2.2" text-anchor="middle" fill="#777" font-weight="normal" stroke="#777" stroke-width="0.1" >FITC-A</text>
<text x="211.70" y="423.90" font-size="2.6" text-anchor="middle" fill="#666" font-weight="normal" stroke="#666" stroke-width="0.12" >0</text>
<text x="227.95" y="423.90" font-size="2.6" text-anchor="middle" fill="#666" font-weight="normal" stroke="#666" stroke-width="0.12" >10³</text>
<text x="241.20" y="423.90" font-size="2.6" text-anchor="middle" fill="#666" font-weight="normal" stroke="#666" stroke-width="0.12" >10⁴</text>
<text x="254.45" y="423.90" font-size="2.6" text-anchor="middle" fill="#666" font-weight="normal" stroke="#666" stroke-width="0.12" >10⁵</text>
<text x="267.70" y="423.90" font-size="2.6" text-anchor="middle" fill="#666" font-weight="normal" stroke="#666" stroke-width="0.12" >10⁶</text>
<text x="0.00" y="0.00" font-size="2.8" text-anchor="middle" fill="#555" font-weight="normal" stroke="#555" stroke-width="0.15" transform="translate(203.10,420.20) rotate(-90)">0</text>
<text x="0.00" y="0.00" font-size="2.8" text-anchor="middle" fill="#555" font-weight="normal" stroke="#555" stroke-width="0.15" transform="translate(203.10,407.73) rotate(-90)">10</text>
<text x="0.00" y="0.00" font-size="2.8" text-anchor="middle" fill="#555" font-weight="normal" stroke="#555" stroke-width="0.15" transform="translate(203.10,395.27) rotate(-90)">20</text>
<text x="0.00" y="0.00" font-size="2.8" text-anchor="middle" fill="#555" font-weight="normal" stroke="#555" stroke-width="0.15" transform="translate(203.10,382.80) rotate(-90)">30</text>
<text x="197.60" y="399.50" font-size="2.6" text-anchor="middle" fill="#666" font-weight="normal" stroke="#666" stroke-width="0.12" transform="rotate(-90 197.60 399.50)">Count</text>
<rect x="282.40" y="379.00" width="62.50" height="41.20" fill="#fff" stroke="#a8a8a8" stroke-width="0.6" />
<line x1="282.40" y1="379.00" x2="282.40" y2="420.20" stroke="#888" stroke-width="0.7" />
<line x1="282.40" y1="420.20" x2="344.90" y2="420.20" stroke="#888" stroke-width="0.7" />
<line x1="344.90" y1="379.00" x2="344.90" y2="420.20" stroke="#999" stroke-width="0.7" />
<line x1="281.50" y1="420.20" x2="282.40" y2="420.20" stroke="#888" stroke-width="0.35" />
<line x1="281.50" y1="417.54" x2="282.40" y2="417.54" stroke="#888" stroke-width="0.35" />
<line x1="281.50" y1="414.88" x2="282.40" y2="414.88" stroke="#888" stroke-width="0.35" />
<line x1="281.50" y1="412.23" x2="282.40" y2="412.23" stroke="#888" stroke-width="0.35" />
<line x1="281.50" y1="409.57" x2="282.40" y2="409.57" stroke="#888" stroke-width="0.35" />
<line x1="281.50" y1="406.91" x2="282.40" y2="406.91" stroke="#888" stroke-width="0.35" />
<line x1="281.50" y1="404.25" x2="282.40" y2="404.25" stroke="#888" stroke-width="0.35" />
<line x1="281.50" y1="401.59" x2="282.40" y2="401.59" stroke="#888" stroke-width="0.35" />
<line x1="281.50" y1="398.94" x2="282.40" y2="398.94" stroke="#888" stroke-width="0.35" />
<line x1="281.50" y1="396.28" x2="282.40" y2="396.28" stroke="#888" stroke-width="0.35" />
<line x1="281.50" y1="393.62" x2="282.40" y2="393.62" stroke="#888" stroke-width="0.35" />
<line x1="281.50" y1="390.96" x2="282.40" y2="390.96" stroke="#888" stroke-width="0.35" />
<line x1="281.50" y1="388.30" x2="282.40" y2="388.30" stroke="#888" stroke-width="0.35" />
<line x1="281.50" y1="385.65" x2="282.40" y2="385.65" stroke="#888" stroke-width="0.35" />
<line x1="281.50" y1="382.99" x2="282.40" y2="382.99" stroke="#888" stroke-width="0.35" />
<line x1="281.50" y1="380.33" x2="282.40" y2="380.33" stroke="#888" stroke-width="0.35" />
<line x1="283.40" y1="420.20" x2="283.40" y2="421.10" stroke="#888" stroke-width="0.35" />
<line x1="286.28" y1="420.20" x2="286.28" y2="421.10" stroke="#888" stroke-width="0.35" />
<line x1="289.16" y1="420.20" x2="289.16" y2="421.10" stroke="#888" stroke-width="0.35" />
<line x1="292.04" y1="420.20" x2="292.04" y2="421.10" stroke="#888" stroke-width="0.35" />
<line x1="294.92" y1="420.20" x2="294.92" y2="421.10" stroke="#888" stroke-width="0.35" />
<line x1="297.80" y1="420.20" x2="297.80" y2="421.10" stroke="#888" stroke-width="0.35" />
<line x1="300.69" y1="420.20" x2="300.69" y2="421.10" stroke="#888" stroke-width="0.35" />
<line x1="303.57" y1="420.20" x2="303.57" y2="421.10" stroke="#888" stroke-width="0.35" />
<line x1="306.45" y1="420.20" x2="306.45" y2="421.10" stroke="#888" stroke-width="0.35" />
<line x1="309.33" y1="420.20" x2="309.33" y2="421.10" stroke="#888" stroke-width="0.35" />
<line x1="312.21" y1="420.20" x2="312.21" y2="421.10" stroke="#888" stroke-width="0.35" />
<line x1="315.09" y1="420.20" x2="315.09" y2="421.10" stroke="#888" stroke-width="0.35" />
<line x1="317.97" y1="420.20" x2="317.97" y2="421.10" stroke="#888" stroke-width="0.35" />
<line x1="320.85" y1="420.20" x2="320.85" y2="421.10" stroke="#888" stroke-width="0.35" />
<line x1="323.73" y1="420.20" x2="323.73" y2="421.10" stroke="#888" stroke-width="0.35" />
<line x1="326.61" y1="420.20" x2="326.61" y2="421.10" stroke="#888" stroke-width="0.35" />
<line x1="329.50" y1="420.20" x2="329.50" y2="421.10" stroke="#888" stroke-width="0.35" />
<line x1="332.38" y1="420.20" x2="332.38" y2="421.10" stroke="#888" stroke-width="0.35" />
<line x1="335.26" y1="420.20" x2="335.26" y2="421.10" stroke="#888" stroke-width="0.35" />
<line x1="338.14" y1="420.20" x2="338.14" y2="421.10" stroke="#888" stroke-width="0.35" />
<line x1="341.02" y1="420.20" x2="341.02" y2="421.10" stroke="#888" stroke-width="0.35" />
<line x1="343.90" y1="420.20" x2="343.90" y2="421.10" stroke="#888" stroke-width="0.35" />
<polygon points="291.40,419.90 293.50,419.84 295.60,419.74 297.70,419.60 299.80,419.44 301.90,419.26 304.00,419.06 306.10,418.85 308.20,418.61 310.30,418.36 312.40,418.10 312.40,419.90" fill="#f46468" stroke="none" stroke-width="0.8" />
<polyline points="291.40,419.90 293.50,419.84 295.60,419.74 297.70,419.60 299.80,419.44 301.90,419.26 304.00,419.06 306.10,418.85 308.20,418.61 310.30,418.36 312.40,418.10" fill="none" stroke="#f03030" stroke-width="0.5" stroke-linejoin="round" />
<polygon points="307.90,419.90 307.90,419.90 308.12,419.88 308.33,419.83 308.55,419.68 308.77,419.33 308.99,418.66 309.20,417.55 309.42,415.98 309.64,414.05 309.86,411.94 310.07,409.84 310.29,407.89 310.51,406.13 310.73,404.54 310.90,403.40 310.90,419.90" fill="#f46468" stroke="none" stroke-width="0.8" />
<polygon points="310.90,419.90 310.90,403.40 310.94,403.10 311.16,401.77 311.38,400.52 311.60,399.35 311.81,398.22 312.03,397.15 312.25,396.12 312.47,395.12 312.69,394.16 312.90,393.23 313.12,392.32 313.34,391.44 313.56,390.58 313.77,389.74 313.99,388.93 314.21,388.14 314.43,387.42 314.64,386.80 314.86,386.34 315.08,386.11 315.30,386.17 315.51,386.50 315.73,387.06 315.95,387.79 316.17,388.61 316.38,389.47 316.60,390.36 316.82,391.25 317.03,392.14 317.25,393.04 317.47,393.93 317.69,394.82 317.90,395.71 318.12,396.60 318.34,397.50 318.56,398.39 318.77,399.28 318.99,400.17 319.21,401.07 319.43,401.96 319.64,402.85 319.86,403.74 320.08,404.64 320.30,405.53 320.51,406.42 320.73,407.31 320.95,408.21 321.17,409.10 321.38,409.99 321.60,410.88 321.82,411.78 322.04,412.67 322.25,413.56 322.47,414.45 322.69,415.34 322.91,416.21 323.12,417.05 323.34,417.83 323.56,418.50 323.78,419.04 324.00,419.42 324.21,419.67 324.43,419.80 324.65,419.87 324.87,419.89 325.08,419.90 325.30,419.90 325.30,419.90" fill="#7a34c8" stroke="none" stroke-width="0.8" />
<polyline points="314.86,386.34 315.08,386.11 315.30,386.17 315.51,386.50 315.73,387.06 315.95,387.79 316.17,388.61 316.38,389.47 316.60,390.36 316.82,391.25 317.03,392.14 317.25,393.04 317.47,393.93 317.69,394.82 317.90,395.71 318.12,396.60 318.34,397.50 318.56,398.39 318.77,399.28 318.99,400.17 319.21,401.07 319.43,401.96 319.64,402.85 319.86,403.74 320.08,404.64 320.30,405.53 320.51,406.42 320.73,407.31 320.95,408.21 321.17,409.10 321.38,409.99 321.60,410.88 321.82,411.78 322.04,412.67 322.25,413.56 322.47,414.45 322.69,415.34 322.91,416.21 323.12,417.05 323.34,417.83 323.56,418.50 323.78,419.04 324.00,419.42 324.21,419.67 324.43,419.80 324.65,419.87 324.87,419.89 325.08,419.90 325.30,419.90" fill="none" stroke="#3030f0" stroke-width="0.7" stroke-linejoin="round" />
<line x1="316.90" y1="405.60" x2="344.40" y2="405.60" stroke="#9090f4" stroke-width="0.75" />
<rect x="338.60" y="404.90" width="0.80" height="1.40" fill="#7878f0" stroke="none" stroke-width="0.8" />
<rect x="310.80" y="401.20" width="3.60" height="2.20" fill="#fff" stroke="none" stroke-width="0.8" opacity="0.85"/>
<text x="311.10" y="403.10" font-size="2.5" text-anchor="start" fill="#7878f0" font-weight="normal" stroke="#7878f0" stroke-width="0.1" >P2 (xx.xx%)</text>
<text x="285.80" y="387.50" font-size="6.1" text-anchor="start" fill="#111" font-weight="normal" stroke="#111" stroke-width="0.2" >5-FU</text>
<text x="341.00" y="387.80" font-size="6.2" text-anchor="end" fill="#f42c38" font-weight="normal" stroke="#f42c38" stroke-width="0.18" >82.80%</text>
<text x="313.65" y="378.00" font-size="2.4" text-anchor="middle" fill="#777" font-weight="normal" stroke="#777" stroke-width="0.1" >5FU_P1</text>
<text x="310.65" y="426.60" font-size="2.2" text-anchor="middle" fill="#777" font-weight="normal" stroke="#777" stroke-width="0.1" >FITC-A</text>
<text x="289.00" y="423.90" font-size="2.6" text-anchor="middle" fill="#666" font-weight="normal" stroke="#666" stroke-width="0.12" >0</text>
<text x="305.12" y="423.90" font-size="2.6" text-anchor="middle" fill="#666" font-weight="normal" stroke="#666" stroke-width="0.12" >10³</text>
<text x="318.25" y="423.90" font-size="2.6" text-anchor="middle" fill="#666" font-weight="normal" stroke="#666" stroke-width="0.12" >10⁴</text>
<text x="331.38" y="423.90" font-size="2.6" text-anchor="middle" fill="#666" font-weight="normal" stroke="#666" stroke-width="0.12" >10⁵</text>
<text x="344.50" y="423.90" font-size="2.6" text-anchor="middle" fill="#666" font-weight="normal" stroke="#666" stroke-width="0.12" >10⁶</text>
<text x="0.00" y="0.00" font-size="2.8" text-anchor="middle" fill="#555" font-weight="normal" stroke="#555" stroke-width="0.15" transform="translate(280.40,420.20) rotate(-90)">0</text>
<text x="0.00" y="0.00" font-size="2.8" text-anchor="middle" fill="#555" font-weight="normal" stroke="#555" stroke-width="0.15" transform="translate(280.40,407.80) rotate(-90)">10</text>
<text x="0.00" y="0.00" font-size="2.8" text-anchor="middle" fill="#555" font-weight="normal" stroke="#555" stroke-width="0.15" transform="translate(280.40,395.40) rotate(-90)">20</text>
<text x="0.00" y="0.00" font-size="2.8" text-anchor="middle" fill="#555" font-weight="normal" stroke="#555" stroke-width="0.15" transform="translate(280.40,383.00) rotate(-90)">30</text>
<text x="274.90" y="399.60" font-size="2.6" text-anchor="middle" fill="#666" font-weight="normal" stroke="#666" stroke-width="0.12" transform="rotate(-90 274.90 399.60)">Count</text>
<rect x="205.10" y="430.60" width="62.60" height="41.70" fill="#fff" stroke="#a8a8a8" stroke-width="0.6" />
<line x1="205.10" y1="430.60" x2="205.10" y2="472.30" stroke="#888" stroke-width="0.7" />
<line x1="205.10" y1="472.30" x2="267.70" y2="472.30" stroke="#888" stroke-width="0.7" />
<line x1="267.70" y1="430.60" x2="267.70" y2="472.30" stroke="#999" stroke-width="0.7" />
<line x1="204.20" y1="472.30" x2="205.10" y2="472.30" stroke="#888" stroke-width="0.35" />
<line x1="204.20" y1="469.61" x2="205.10" y2="469.61" stroke="#888" stroke-width="0.35" />
<line x1="204.20" y1="466.92" x2="205.10" y2="466.92" stroke="#888" stroke-width="0.35" />
<line x1="204.20" y1="464.23" x2="205.10" y2="464.23" stroke="#888" stroke-width="0.35" />
<line x1="204.20" y1="461.54" x2="205.10" y2="461.54" stroke="#888" stroke-width="0.35" />
<line x1="204.20" y1="458.85" x2="205.10" y2="458.85" stroke="#888" stroke-width="0.35" />
<line x1="204.20" y1="456.16" x2="205.10" y2="456.16" stroke="#888" stroke-width="0.35" />
<line x1="204.20" y1="453.47" x2="205.10" y2="453.47" stroke="#888" stroke-width="0.35" />
<line x1="204.20" y1="450.78" x2="205.10" y2="450.78" stroke="#888" stroke-width="0.35" />
<line x1="204.20" y1="448.09" x2="205.10" y2="448.09" stroke="#888" stroke-width="0.35" />
<line x1="204.20" y1="445.40" x2="205.10" y2="445.40" stroke="#888" stroke-width="0.35" />
<line x1="204.20" y1="442.71" x2="205.10" y2="442.71" stroke="#888" stroke-width="0.35" />
<line x1="204.20" y1="440.02" x2="205.10" y2="440.02" stroke="#888" stroke-width="0.35" />
<line x1="204.20" y1="437.33" x2="205.10" y2="437.33" stroke="#888" stroke-width="0.35" />
<line x1="204.20" y1="434.64" x2="205.10" y2="434.64" stroke="#888" stroke-width="0.35" />
<line x1="204.20" y1="431.95" x2="205.10" y2="431.95" stroke="#888" stroke-width="0.35" />
<line x1="206.10" y1="472.30" x2="206.10" y2="473.20" stroke="#888" stroke-width="0.35" />
<line x1="208.99" y1="472.30" x2="208.99" y2="473.20" stroke="#888" stroke-width="0.35" />
<line x1="211.87" y1="472.30" x2="211.87" y2="473.20" stroke="#888" stroke-width="0.35" />
<line x1="214.76" y1="472.30" x2="214.76" y2="473.20" stroke="#888" stroke-width="0.35" />
<line x1="217.64" y1="472.30" x2="217.64" y2="473.20" stroke="#888" stroke-width="0.35" />
<line x1="220.53" y1="472.30" x2="220.53" y2="473.20" stroke="#888" stroke-width="0.35" />
<line x1="223.41" y1="472.30" x2="223.41" y2="473.20" stroke="#888" stroke-width="0.35" />
<line x1="226.30" y1="472.30" x2="226.30" y2="473.20" stroke="#888" stroke-width="0.35" />
<line x1="229.19" y1="472.30" x2="229.19" y2="473.20" stroke="#888" stroke-width="0.35" />
<line x1="232.07" y1="472.30" x2="232.07" y2="473.20" stroke="#888" stroke-width="0.35" />
<line x1="234.96" y1="472.30" x2="234.96" y2="473.20" stroke="#888" stroke-width="0.35" />
<line x1="237.84" y1="472.30" x2="237.84" y2="473.20" stroke="#888" stroke-width="0.35" />
<line x1="240.73" y1="472.30" x2="240.73" y2="473.20" stroke="#888" stroke-width="0.35" />
<line x1="243.61" y1="472.30" x2="243.61" y2="473.20" stroke="#888" stroke-width="0.35" />
<line x1="246.50" y1="472.30" x2="246.50" y2="473.20" stroke="#888" stroke-width="0.35" />
<line x1="249.39" y1="472.30" x2="249.39" y2="473.20" stroke="#888" stroke-width="0.35" />
<line x1="252.27" y1="472.30" x2="252.27" y2="473.20" stroke="#888" stroke-width="0.35" />
<line x1="255.16" y1="472.30" x2="255.16" y2="473.20" stroke="#888" stroke-width="0.35" />
<line x1="258.04" y1="472.30" x2="258.04" y2="473.20" stroke="#888" stroke-width="0.35" />
<line x1="260.93" y1="472.30" x2="260.93" y2="473.20" stroke="#888" stroke-width="0.35" />
<line x1="263.81" y1="472.30" x2="263.81" y2="473.20" stroke="#888" stroke-width="0.35" />
<line x1="266.70" y1="472.30" x2="266.70" y2="473.20" stroke="#888" stroke-width="0.35" />
<polygon points="215.90,472.00 217.81,471.92 219.72,471.79 221.63,471.61 223.54,471.39 225.45,471.15 227.36,470.88 229.27,470.59 231.18,470.28 233.09,469.95 235.00,469.60 235.00,472.00" fill="#f46468" stroke="none" stroke-width="0.8" />
<polyline points="215.90,472.00 217.81,471.92 219.72,471.79 221.63,471.61 223.54,471.39 225.45,471.15 227.36,470.88 229.27,470.59 231.18,470.28 233.09,469.95 235.00,469.60" fill="none" stroke="#f03030" stroke-width="0.5" stroke-linejoin="round" />
<polygon points="230.50,472.00 230.50,472.00 230.71,471.98 230.92,471.93 231.13,471.77 231.34,471.42 231.55,470.74 231.76,469.61 231.97,467.97 232.18,465.91 232.39,463.59 232.60,461.24 232.81,459.00 233.02,456.95 233.23,455.10 233.44,453.43 233.65,451.89 233.86,450.46 234.07,449.11 234.28,447.82 234.30,447.71 234.30,472.00" fill="#f46468" stroke="none" stroke-width="0.8" />
<polygon points="234.30,472.00 234.30,447.71 234.49,446.60 234.70,445.42 234.91,444.28 235.12,443.19 235.33,442.13 235.54,441.11 235.75,440.16 235.96,439.30 236.17,438.59 236.38,438.11 236.59,437.90 236.80,438.00 237.01,438.37 237.22,438.95 237.43,439.67 237.64,440.47 237.85,441.30 238.06,442.15 238.27,443.00 238.48,443.85 238.69,444.69 238.90,445.54 239.11,446.38 239.32,447.23 239.53,448.07 239.74,448.91 239.95,449.75 240.16,450.59 240.37,451.42 240.58,452.26 240.79,453.09 241.00,453.92 241.21,454.75 241.42,455.58 241.63,456.40 241.84,457.23 242.05,458.05 242.26,458.87 242.47,459.68 242.68,460.49 242.89,461.31 243.10,462.11 243.31,462.92 243.52,463.72 243.73,464.52 243.94,465.31 244.15,466.10 244.36,466.88 244.57,467.65 244.78,468.41 244.99,469.14 245.20,469.83 245.41,470.45 245.62,470.98 245.83,471.38 246.04,471.66 246.25,471.84 246.46,471.93 246.67,471.98 246.88,471.99 247.09,472.00 247.30,472.00 247.30,472.00" fill="#7a34c8" stroke="none" stroke-width="0.8" />
<polyline points="236.17,438.59 236.38,438.11 236.59,437.90 236.80,438.00 237.01,438.37 237.22,438.95 237.43,439.67 237.64,440.47 237.85,441.30 238.06,442.15 238.27,443.00 238.48,443.85 238.69,444.69 238.90,445.54 239.11,446.38 239.32,447.23 239.53,448.07 239.74,448.91 239.95,449.75 240.16,450.59 240.37,451.42 240.58,452.26 240.79,453.09 241.00,453.92 241.21,454.75 241.42,455.58 241.63,456.40 241.84,457.23 242.05,458.05 242.26,458.87 242.47,459.68 242.68,460.49 242.89,461.31 243.10,462.11 243.31,462.92 243.52,463.72 243.73,464.52 243.94,465.31 244.15,466.10 244.36,466.88 244.57,467.65 244.78,468.41 244.99,469.14 245.20,469.83 245.41,470.45 245.62,470.98 245.83,471.38 246.04,471.66 246.25,471.84 246.46,471.93 246.67,471.98 246.88,471.99 247.09,472.00 247.30,472.00" fill="none" stroke="#3030f0" stroke-width="0.7" stroke-linejoin="round" />
<line x1="240.30" y1="457.30" x2="267.20" y2="457.30" stroke="#9090f4" stroke-width="0.75" />
<rect x="261.40" y="456.60" width="0.80" height="1.40" fill="#7878f0" stroke="none" stroke-width="0.8" />
<rect x="234.20" y="452.90" width="3.60" height="2.20" fill="#fff" stroke="none" stroke-width="0.8" opacity="0.85"/>
<text x="234.50" y="454.80" font-size="2.5" text-anchor="start" fill="#7878f0" font-weight="normal" stroke="#7878f0" stroke-width="0.1" >P2 (xx.xx%)</text>
<text x="208.50" y="439.10" font-size="6.1" text-anchor="start" fill="#111" font-weight="normal" stroke="#111" stroke-width="0.2" >5+U</text>
<text x="263.80" y="439.40" font-size="6.2" text-anchor="end" fill="#f42c38" font-weight="normal" stroke="#f42c38" stroke-width="0.18" >82.25%</text>
<text x="236.40" y="429.60" font-size="2.4" text-anchor="middle" fill="#777" font-weight="normal" stroke="#777" stroke-width="0.1" >5FU+U0126_P1</text>
<text x="233.40" y="478.70" font-size="2.2" text-anchor="middle" fill="#777" font-weight="normal" stroke="#777" stroke-width="0.1" >FITC-A</text>
<text x="211.70" y="476.00" font-size="2.6" text-anchor="middle" fill="#666" font-weight="normal" stroke="#666" stroke-width="0.12" >0</text>
<text x="227.85" y="476.00" font-size="2.6" text-anchor="middle" fill="#666" font-weight="normal" stroke="#666" stroke-width="0.12" >10³</text>
<text x="241.00" y="476.00" font-size="2.6" text-anchor="middle" fill="#666" font-weight="normal" stroke="#666" stroke-width="0.12" >10⁴</text>
<text x="254.15" y="476.00" font-size="2.6" text-anchor="middle" fill="#666" font-weight="normal" stroke="#666" stroke-width="0.12" >10⁵</text>
<text x="267.30" y="476.00" font-size="2.6" text-anchor="middle" fill="#666" font-weight="normal" stroke="#666" stroke-width="0.12" >10⁶</text>
<text x="0.00" y="0.00" font-size="2.8" text-anchor="middle" fill="#555" font-weight="normal" stroke="#555" stroke-width="0.15" transform="translate(203.10,472.30) rotate(-90)">0</text>
<text x="0.00" y="0.00" font-size="2.8" text-anchor="middle" fill="#555" font-weight="normal" stroke="#555" stroke-width="0.15" transform="translate(203.10,459.73) rotate(-90)">10</text>
<text x="0.00" y="0.00" font-size="2.8" text-anchor="middle" fill="#555" font-weight="normal" stroke="#555" stroke-width="0.15" transform="translate(203.10,447.17) rotate(-90)">20</text>
<text x="0.00" y="0.00" font-size="2.8" text-anchor="middle" fill="#555" font-weight="normal" stroke="#555" stroke-width="0.15" transform="translate(203.10,434.60) rotate(-90)">30</text>
<text x="197.60" y="451.45" font-size="2.6" text-anchor="middle" fill="#666" font-weight="normal" stroke="#666" stroke-width="0.12" transform="rotate(-90 197.60 451.45)">Count</text>
<rect x="282.40" y="430.80" width="62.50" height="41.50" fill="#fff" stroke="#a8a8a8" stroke-width="0.6" />
<line x1="282.40" y1="430.80" x2="282.40" y2="472.30" stroke="#888" stroke-width="0.7" />
<line x1="282.40" y1="472.30" x2="344.90" y2="472.30" stroke="#888" stroke-width="0.7" />
<line x1="344.90" y1="430.80" x2="344.90" y2="472.30" stroke="#999" stroke-width="0.7" />
<line x1="281.50" y1="472.30" x2="282.40" y2="472.30" stroke="#888" stroke-width="0.35" />
<line x1="281.50" y1="469.62" x2="282.40" y2="469.62" stroke="#888" stroke-width="0.35" />
<line x1="281.50" y1="466.95" x2="282.40" y2="466.95" stroke="#888" stroke-width="0.35" />
<line x1="281.50" y1="464.27" x2="282.40" y2="464.27" stroke="#888" stroke-width="0.35" />
<line x1="281.50" y1="461.59" x2="282.40" y2="461.59" stroke="#888" stroke-width="0.35" />
<line x1="281.50" y1="458.91" x2="282.40" y2="458.91" stroke="#888" stroke-width="0.35" />
<line x1="281.50" y1="456.24" x2="282.40" y2="456.24" stroke="#888" stroke-width="0.35" />
<line x1="281.50" y1="453.56" x2="282.40" y2="453.56" stroke="#888" stroke-width="0.35" />
<line x1="281.50" y1="450.88" x2="282.40" y2="450.88" stroke="#888" stroke-width="0.35" />
<line x1="281.50" y1="448.20" x2="282.40" y2="448.20" stroke="#888" stroke-width="0.35" />
<line x1="281.50" y1="445.53" x2="282.40" y2="445.53" stroke="#888" stroke-width="0.35" />
<line x1="281.50" y1="442.85" x2="282.40" y2="442.85" stroke="#888" stroke-width="0.35" />
<line x1="281.50" y1="440.17" x2="282.40" y2="440.17" stroke="#888" stroke-width="0.35" />
<line x1="281.50" y1="437.49" x2="282.40" y2="437.49" stroke="#888" stroke-width="0.35" />
<line x1="281.50" y1="434.82" x2="282.40" y2="434.82" stroke="#888" stroke-width="0.35" />
<line x1="281.50" y1="432.14" x2="282.40" y2="432.14" stroke="#888" stroke-width="0.35" />
<line x1="283.40" y1="472.30" x2="283.40" y2="473.20" stroke="#888" stroke-width="0.35" />
<line x1="286.28" y1="472.30" x2="286.28" y2="473.20" stroke="#888" stroke-width="0.35" />
<line x1="289.16" y1="472.30" x2="289.16" y2="473.20" stroke="#888" stroke-width="0.35" />
<line x1="292.04" y1="472.30" x2="292.04" y2="473.20" stroke="#888" stroke-width="0.35" />
<line x1="294.92" y1="472.30" x2="294.92" y2="473.20" stroke="#888" stroke-width="0.35" />
<line x1="297.80" y1="472.30" x2="297.80" y2="473.20" stroke="#888" stroke-width="0.35" />
<line x1="300.69" y1="472.30" x2="300.69" y2="473.20" stroke="#888" stroke-width="0.35" />
<line x1="303.57" y1="472.30" x2="303.57" y2="473.20" stroke="#888" stroke-width="0.35" />
<line x1="306.45" y1="472.30" x2="306.45" y2="473.20" stroke="#888" stroke-width="0.35" />
<line x1="309.33" y1="472.30" x2="309.33" y2="473.20" stroke="#888" stroke-width="0.35" />
<line x1="312.21" y1="472.30" x2="312.21" y2="473.20" stroke="#888" stroke-width="0.35" />
<line x1="315.09" y1="472.30" x2="315.09" y2="473.20" stroke="#888" stroke-width="0.35" />
<line x1="317.97" y1="472.30" x2="317.97" y2="473.20" stroke="#888" stroke-width="0.35" />
<line x1="320.85" y1="472.30" x2="320.85" y2="473.20" stroke="#888" stroke-width="0.35" />
<line x1="323.73" y1="472.30" x2="323.73" y2="473.20" stroke="#888" stroke-width="0.35" />
<line x1="326.61" y1="472.30" x2="326.61" y2="473.20" stroke="#888" stroke-width="0.35" />
<line x1="329.50" y1="472.30" x2="329.50" y2="473.20" stroke="#888" stroke-width="0.35" />
<line x1="332.38" y1="472.30" x2="332.38" y2="473.20" stroke="#888" stroke-width="0.35" />
<line x1="335.26" y1="472.30" x2="335.26" y2="473.20" stroke="#888" stroke-width="0.35" />
<line x1="338.14" y1="472.30" x2="338.14" y2="473.20" stroke="#888" stroke-width="0.35" />
<line x1="341.02" y1="472.30" x2="341.02" y2="473.20" stroke="#888" stroke-width="0.35" />
<line x1="343.90" y1="472.30" x2="343.90" y2="473.20" stroke="#888" stroke-width="0.35" />
<polygon points="302.00,472.00 302.00,472.00 302.25,472.00 302.51,471.99 302.76,471.98 303.01,471.92 303.27,471.80 303.52,471.57 303.78,471.21 304.03,470.71 304.28,470.07 304.54,469.34 304.79,468.53 305.05,467.66 305.30,466.74 305.55,465.78 305.81,464.78 306.06,463.75 306.31,462.68 306.57,461.58 306.82,460.46 307.07,459.31 307.33,458.13 307.58,456.93 307.84,455.71 308.09,454.46 308.34,453.20 308.60,451.91 308.85,450.60 309.11,449.28 309.36,447.93 309.61,446.57 309.87,445.20 310.12,443.80 310.37,442.41 310.63,441.05 310.88,439.80 311.10,438.93 311.10,472.00" fill="#f46468" stroke="none" stroke-width="0.8" />
<polygon points="311.10,472.00 311.10,438.93 311.13,438.80 311.39,438.21 311.64,438.14 311.90,438.59 312.15,439.43 312.40,440.50 312.66,441.68 312.91,442.89 313.17,444.10 313.42,445.30 313.67,446.48 313.93,447.65 314.18,448.81 314.43,449.96 314.69,451.09 314.94,452.21 315.19,453.32 315.45,454.41 315.70,455.48 315.96,456.54 316.21,457.58 316.46,458.60 316.72,459.61 316.97,460.60 317.23,461.56 317.48,462.51 317.73,463.44 317.99,464.34 318.24,465.22 318.49,466.07 318.75,466.89 319.00,467.68 319.25,468.43 319.51,469.15 319.76,469.81 320.02,470.42 320.27,470.94 320.52,471.35 320.78,471.65 321.03,471.84 321.29,471.94 321.54,471.98 321.79,472.00 322.05,472.00 322.30,472.00 322.30,472.00" fill="#7a34c8" stroke="none" stroke-width="0.8" />
<polyline points="311.13,438.80 311.39,438.21 311.64,438.14 311.90,438.59 312.15,439.43 312.40,440.50 312.66,441.68 312.91,442.89 313.17,444.10 313.42,445.30 313.67,446.48 313.93,447.65 314.18,448.81 314.43,449.96 314.69,451.09 314.94,452.21 315.19,453.32 315.45,454.41 315.70,455.48 315.96,456.54 316.21,457.58 316.46,458.60 316.72,459.61 316.97,460.60 317.23,461.56 317.48,462.51 317.73,463.44 317.99,464.34 318.24,465.22 318.49,466.07 318.75,466.89 319.00,467.68 319.25,468.43 319.51,469.15 319.76,469.81 320.02,470.42 320.27,470.94 320.52,471.35 320.78,471.65 321.03,471.84 321.29,471.94 321.54,471.98 321.79,472.00 322.05,472.00 322.30,472.00" fill="none" stroke="#3030f0" stroke-width="0.7" stroke-linejoin="round" />
<line x1="317.10" y1="457.60" x2="344.40" y2="457.60" stroke="#9090f4" stroke-width="0.75" />
<rect x="338.60" y="456.90" width="0.80" height="1.40" fill="#7878f0" stroke="none" stroke-width="0.8" />
<rect x="311.00" y="453.20" width="3.60" height="2.20" fill="#fff" stroke="none" stroke-width="0.8" opacity="0.85"/>
<text x="311.30" y="455.10" font-size="2.5" text-anchor="start" fill="#7878f0" font-weight="normal" stroke="#7878f0" stroke-width="0.1" >P2 (xx.xx%)</text>
<text x="285.80" y="439.30" font-size="6.1" text-anchor="start" fill="#111" font-weight="normal" stroke="#111" stroke-width="0.2" >U0</text>
<text x="341.00" y="439.60" font-size="6.2" text-anchor="end" fill="#f42c38" font-weight="normal" stroke="#f42c38" stroke-width="0.18" >51.75%</text>
<text x="313.65" y="429.80" font-size="2.4" text-anchor="middle" fill="#777" font-weight="normal" stroke="#777" stroke-width="0.1" >U0126_P1</text>
<text x="310.65" y="478.70" font-size="2.2" text-anchor="middle" fill="#777" font-weight="normal" stroke="#777" stroke-width="0.1" >FITC-A</text>
<text x="289.00" y="476.00" font-size="2.6" text-anchor="middle" fill="#666" font-weight="normal" stroke="#666" stroke-width="0.12" >0</text>
<text x="305.12" y="476.00" font-size="2.6" text-anchor="middle" fill="#666" font-weight="normal" stroke="#666" stroke-width="0.12" >10³</text>
<text x="318.25" y="476.00" font-size="2.6" text-anchor="middle" fill="#666" font-weight="normal" stroke="#666" stroke-width="0.12" >10⁴</text>
<text x="331.38" y="476.00" font-size="2.6" text-anchor="middle" fill="#666" font-weight="normal" stroke="#666" stroke-width="0.12" >10⁵</text>
<text x="344.50" y="476.00" font-size="2.6" text-anchor="middle" fill="#666" font-weight="normal" stroke="#666" stroke-width="0.12" >10⁶</text>
<text x="0.00" y="0.00" font-size="2.8" text-anchor="middle" fill="#555" font-weight="normal" stroke="#555" stroke-width="0.15" transform="translate(280.40,472.30) rotate(-90)">0</text>
<text x="0.00" y="0.00" font-size="2.8" text-anchor="middle" fill="#555" font-weight="normal" stroke="#555" stroke-width="0.15" transform="translate(280.40,459.80) rotate(-90)">10</text>
<text x="0.00" y="0.00" font-size="2.8" text-anchor="middle" fill="#555" font-weight="normal" stroke="#555" stroke-width="0.15" transform="translate(280.40,447.30) rotate(-90)">20</text>
<text x="0.00" y="0.00" font-size="2.8" text-anchor="middle" fill="#555" font-weight="normal" stroke="#555" stroke-width="0.15" transform="translate(280.40,434.80) rotate(-90)">30</text>
<text x="274.90" y="451.55" font-size="2.6" text-anchor="middle" fill="#666" font-weight="normal" stroke="#666" stroke-width="0.12" transform="rotate(-90 274.90 451.55)">Count</text>
<line x1="205.20" y1="485.90" x2="244.90" y2="485.90" stroke="#555" stroke-width="1.7" />
<text x="274.10" y="488.30" font-size="6.3" text-anchor="middle" fill="#1a1a1a" font-weight="normal" stroke="#1a1a1a" stroke-width="0.2" >PD-L1 intensity</text>
<line x1="302.40" y1="485.90" x2="342.50" y2="485.90" stroke="#666" stroke-width="1.7" />
<polygon points="345.00,485.90 341.40,483.90 342.40,485.90 341.40,487.90" fill="#111" stroke="#111" stroke-width="0.3" />
<line x1="423.10" y1="260.50" x2="423.10" y2="339.30" stroke="#222" stroke-width="1.0" />
<line x1="421.50" y1="338.90" x2="423.10" y2="338.90" stroke="#222" stroke-width="0.7" />
<text x="418.60" y="340.90" font-size="6.0" text-anchor="end" fill="#1a1a1a" font-weight="normal" stroke="#1a1a1a" stroke-width="0.2" >0</text>
<line x1="421.50" y1="331.06" x2="423.10" y2="331.06" stroke="#222" stroke-width="0.7" />
<text x="418.60" y="333.06" font-size="6.0" text-anchor="end" fill="#1a1a1a" font-weight="normal" stroke="#1a1a1a" stroke-width="0.2" >0.2</text>
<line x1="421.50" y1="323.22" x2="423.10" y2="323.22" stroke="#222" stroke-width="0.7" />
<text x="418.60" y="325.22" font-size="6.0" text-anchor="end" fill="#1a1a1a" font-weight="normal" stroke="#1a1a1a" stroke-width="0.2" >0.4</text>
<line x1="421.50" y1="315.38" x2="423.10" y2="315.38" stroke="#222" stroke-width="0.7" />
<text x="418.60" y="317.38" font-size="6.0" text-anchor="end" fill="#1a1a1a" font-weight="normal" stroke="#1a1a1a" stroke-width="0.2" >0.6</text>
<line x1="421.50" y1="307.54" x2="423.10" y2="307.54" stroke="#222" stroke-width="0.7" />
<text x="418.60" y="309.54" font-size="6.0" text-anchor="end" fill="#1a1a1a" font-weight="normal" stroke="#1a1a1a" stroke-width="0.2" >0.8</text>
<line x1="421.50" y1="299.70" x2="423.10" y2="299.70" stroke="#222" stroke-width="0.7" />
<text x="418.60" y="301.70" font-size="6.0" text-anchor="end" fill="#1a1a1a" font-weight="normal" stroke="#1a1a1a" stroke-width="0.2" >1</text>
<line x1="421.50" y1="291.86" x2="423.10" y2="291.86" stroke="#222" stroke-width="0.7" />
<text x="418.60" y="293.86" font-size="6.0" text-anchor="end" fill="#1a1a1a" font-weight="normal" stroke="#1a1a1a" stroke-width="0.2" >1.2</text>
<line x1="421.50" y1="284.02" x2="423.10" y2="284.02" stroke="#222" stroke-width="0.7" />
<text x="418.60" y="286.02" font-size="6.0" text-anchor="end" fill="#1a1a1a" font-weight="normal" stroke="#1a1a1a" stroke-width="0.2" >1.4</text>
<line x1="421.50" y1="276.18" x2="423.10" y2="276.18" stroke="#222" stroke-width="0.7" />
<text x="418.60" y="278.18" font-size="6.0" text-anchor="end" fill="#1a1a1a" font-weight="normal" stroke="#1a1a1a" stroke-width="0.2" >1.6</text>
<line x1="421.50" y1="268.34" x2="423.10" y2="268.34" stroke="#222" stroke-width="0.7" />
<text x="418.60" y="270.34" font-size="6.0" text-anchor="end" fill="#1a1a1a" font-weight="normal" stroke="#1a1a1a" stroke-width="0.2" >1.8</text>
<line x1="421.50" y1="260.50" x2="423.10" y2="260.50" stroke="#222" stroke-width="0.7" />
<text x="418.60" y="262.50" font-size="6.0" text-anchor="end" fill="#1a1a1a" font-weight="normal" stroke="#1a1a1a" stroke-width="0.2" >2</text>
<line x1="423.10" y1="338.90" x2="503.50" y2="338.90" stroke="#222" stroke-width="1.0" />
<line x1="423.40" y1="338.90" x2="423.40" y2="340.40" stroke="#222" stroke-width="0.6" />
<line x1="443.30" y1="338.90" x2="443.30" y2="340.40" stroke="#222" stroke-width="0.6" />
<line x1="463.20" y1="338.90" x2="463.20" y2="340.40" stroke="#222" stroke-width="0.6" />
<line x1="483.10" y1="338.90" x2="483.10" y2="340.40" stroke="#222" stroke-width="0.6" />
<line x1="503.00" y1="338.90" x2="503.00" y2="340.40" stroke="#222" stroke-width="0.6" />
<rect x="428.00" y="299.70" width="10.80" height="39.20" fill="#000" stroke="none" stroke-width="0.8" />
<line x1="433.40" y1="299.70" x2="433.40" y2="297.74" stroke="#000" stroke-width="0.7" />
<line x1="432.20" y1="297.74" x2="434.60" y2="297.74" stroke="#000" stroke-width="0.7" />
<rect x="447.95" y="270.69" width="10.80" height="68.21" fill="#000" stroke="none" stroke-width="0.8" />
<line x1="453.35" y1="270.69" x2="453.35" y2="269.52" stroke="#000" stroke-width="0.7" />
<line x1="452.15" y1="269.52" x2="454.55" y2="269.52" stroke="#000" stroke-width="0.7" />
<rect x="467.90" y="271.87" width="10.80" height="67.03" fill="#000" stroke="none" stroke-width="0.8" />
<line x1="473.30" y1="271.87" x2="473.30" y2="270.30" stroke="#000" stroke-width="0.7" />
<line x1="472.10" y1="270.30" x2="474.50" y2="270.30" stroke="#000" stroke-width="0.7" />
<rect x="487.85" y="300.48" width="10.80" height="38.42" fill="#000" stroke="none" stroke-width="0.8" />
<line x1="493.25" y1="300.48" x2="493.25" y2="300.09" stroke="#000" stroke-width="0.7" />
<line x1="492.05" y1="300.09" x2="494.45" y2="300.09" stroke="#000" stroke-width="0.7" />
<text x="433.95" y="348.60" font-size="6.25" text-anchor="middle" fill="#1a1a1a" font-weight="normal" stroke="#1a1a1a" stroke-width="0.2" >Veh</text>
<text x="453.80" y="348.60" font-size="6.25" text-anchor="middle" fill="#1a1a1a" font-weight="normal" stroke="#1a1a1a" stroke-width="0.2" >5-FU</text>
<text x="473.65" y="348.60" font-size="6.25" text-anchor="middle" fill="#1a1a1a" font-weight="normal" stroke="#1a1a1a" stroke-width="0.2" >5+R</text>
<text x="493.50" y="348.60" font-size="6.25" text-anchor="middle" fill="#1a1a1a" font-weight="normal" stroke="#1a1a1a" stroke-width="0.2" >Re</text>
<text x="0.00" y="0.00" font-size="6.3" text-anchor="middle" fill="#1a1a1a" font-weight="normal" stroke="#1a1a1a" stroke-width="0.12" transform="translate(398.9,299.30) rotate(-90)">Fold Change Expression</text>
<text x="0.00" y="0.00" font-size="6.3" text-anchor="middle" fill="#1a1a1a" font-weight="normal" stroke="#1a1a1a" stroke-width="0.12" transform="translate(405.7,299.30) rotate(-90)">(relative to veh)</text>
<polyline points="434.20,280.60 434.20,258.30 452.60,258.30 452.60,261.60" fill="none" stroke="#555" stroke-width="0.9" stroke-linejoin="round" />
<polyline points="454.00,261.00 454.00,258.30 472.50,258.30 472.50,266.80" fill="none" stroke="#555" stroke-width="0.9" stroke-linejoin="round" />
<text x="443.40" y="256.16" font-size="7.6" text-anchor="middle" fill="#111" font-weight="bold" stroke="#111" stroke-width="0.15">*</text>
<text x="462.80" y="255.30" font-size="6.4" text-anchor="middle" fill="#222" font-weight="normal" stroke="#222" stroke-width="0.2" >NS</text>
<line x1="423.10" y1="387.51" x2="423.10" y2="465.40" stroke="#222" stroke-width="1.0" />
<line x1="421.50" y1="465.00" x2="423.10" y2="465.00" stroke="#222" stroke-width="0.7" />
<text x="418.60" y="467.00" font-size="6.0" text-anchor="end" fill="#1a1a1a" font-weight="normal" stroke="#1a1a1a" stroke-width="0.2" >0</text>
<line x1="421.50" y1="456.39" x2="423.10" y2="456.39" stroke="#222" stroke-width="0.7" />
<text x="418.60" y="458.39" font-size="6.0" text-anchor="end" fill="#1a1a1a" font-weight="normal" stroke="#1a1a1a" stroke-width="0.2" >0.2</text>
<line x1="421.50" y1="447.78" x2="423.10" y2="447.78" stroke="#222" stroke-width="0.7" />
<text x="418.60" y="449.78" font-size="6.0" text-anchor="end" fill="#1a1a1a" font-weight="normal" stroke="#1a1a1a" stroke-width="0.2" >0.4</text>
<line x1="421.50" y1="439.17" x2="423.10" y2="439.17" stroke="#222" stroke-width="0.7" />
<text x="418.60" y="441.17" font-size="6.0" text-anchor="end" fill="#1a1a1a" font-weight="normal" stroke="#1a1a1a" stroke-width="0.2" >0.6</text>
<line x1="421.50" y1="430.56" x2="423.10" y2="430.56" stroke="#222" stroke-width="0.7" />
<text x="418.60" y="432.56" font-size="6.0" text-anchor="end" fill="#1a1a1a" font-weight="normal" stroke="#1a1a1a" stroke-width="0.2" >0.8</text>
<line x1="421.50" y1="421.95" x2="423.10" y2="421.95" stroke="#222" stroke-width="0.7" />
<text x="418.60" y="423.95" font-size="6.0" text-anchor="end" fill="#1a1a1a" font-weight="normal" stroke="#1a1a1a" stroke-width="0.2" >1</text>
<line x1="421.50" y1="413.34" x2="423.10" y2="413.34" stroke="#222" stroke-width="0.7" />
<text x="418.60" y="415.34" font-size="6.0" text-anchor="end" fill="#1a1a1a" font-weight="normal" stroke="#1a1a1a" stroke-width="0.2" >1.2</text>
<line x1="421.50" y1="404.73" x2="423.10" y2="404.73" stroke="#222" stroke-width="0.7" />
<text x="418.60" y="406.73" font-size="6.0" text-anchor="end" fill="#1a1a1a" font-weight="normal" stroke="#1a1a1a" stroke-width="0.2" >1.4</text>
<line x1="421.50" y1="396.12" x2="423.10" y2="396.12" stroke="#222" stroke-width="0.7" />
<text x="418.60" y="398.12" font-size="6.0" text-anchor="end" fill="#1a1a1a" font-weight="normal" stroke="#1a1a1a" stroke-width="0.2" >1.6</text>
<line x1="421.50" y1="387.51" x2="423.10" y2="387.51" stroke="#222" stroke-width="0.7" />
<text x="418.60" y="389.51" font-size="6.0" text-anchor="end" fill="#1a1a1a" font-weight="normal" stroke="#1a1a1a" stroke-width="0.2" >1.8</text>
<line x1="423.10" y1="465.00" x2="503.50" y2="465.00" stroke="#222" stroke-width="1.0" />
<line x1="423.40" y1="465.00" x2="423.40" y2="466.50" stroke="#222" stroke-width="0.6" />
<line x1="443.30" y1="465.00" x2="443.30" y2="466.50" stroke="#222" stroke-width="0.6" />
<line x1="463.20" y1="465.00" x2="463.20" y2="466.50" stroke="#222" stroke-width="0.6" />
<line x1="483.10" y1="465.00" x2="483.10" y2="466.50" stroke="#222" stroke-width="0.6" />
<line x1="503.00" y1="465.00" x2="503.00" y2="466.50" stroke="#222" stroke-width="0.6" />
<rect x="428.00" y="421.95" width="10.80" height="43.05" fill="#000" stroke="none" stroke-width="0.8" />
<line x1="433.40" y1="421.95" x2="433.40" y2="421.52" stroke="#000" stroke-width="0.7" />
<line x1="432.20" y1="421.52" x2="434.60" y2="421.52" stroke="#000" stroke-width="0.7" />
<rect x="447.95" y="398.70" width="10.80" height="66.30" fill="#000" stroke="none" stroke-width="0.8" />
<line x1="453.35" y1="398.70" x2="453.35" y2="396.98" stroke="#000" stroke-width="0.7" />
<line x1="452.15" y1="396.98" x2="454.55" y2="396.98" stroke="#000" stroke-width="0.7" />
<rect x="467.90" y="404.30" width="10.80" height="60.70" fill="#000" stroke="none" stroke-width="0.8" />
<line x1="473.30" y1="404.30" x2="473.30" y2="400.86" stroke="#000" stroke-width="0.7" />
<line x1="472.10" y1="400.86" x2="474.50" y2="400.86" stroke="#000" stroke-width="0.7" />
<rect x="487.85" y="422.38" width="10.80" height="42.62" fill="#000" stroke="none" stroke-width="0.8" />
<line x1="493.25" y1="422.38" x2="493.25" y2="421.95" stroke="#000" stroke-width="0.7" />
<line x1="492.05" y1="421.95" x2="494.45" y2="421.95" stroke="#000" stroke-width="0.7" />
<text x="433.95" y="474.70" font-size="6.25" text-anchor="middle" fill="#1a1a1a" font-weight="normal" stroke="#1a1a1a" stroke-width="0.2" >Veh</text>
<text x="453.80" y="474.70" font-size="6.25" text-anchor="middle" fill="#1a1a1a" font-weight="normal" stroke="#1a1a1a" stroke-width="0.2" >5-FU</text>
<text x="473.65" y="474.70" font-size="6.25" text-anchor="middle" fill="#1a1a1a" font-weight="normal" stroke="#1a1a1a" stroke-width="0.2" >5+U</text>
<text x="493.50" y="474.70" font-size="6.25" text-anchor="middle" fill="#1a1a1a" font-weight="normal" stroke="#1a1a1a" stroke-width="0.2" >U0</text>
<text x="0.00" y="0.00" font-size="6.3" text-anchor="middle" fill="#1a1a1a" font-weight="normal" stroke="#1a1a1a" stroke-width="0.12" transform="translate(398.9,426.00) rotate(-90)">Fold Change Expression</text>
<text x="0.00" y="0.00" font-size="6.3" text-anchor="middle" fill="#1a1a1a" font-weight="normal" stroke="#1a1a1a" stroke-width="0.12" transform="translate(405.7,426.00) rotate(-90)">(relative to veh)</text>
<polyline points="434.70,410.70 434.70,388.30 452.60,388.30 452.60,391.80" fill="none" stroke="#555" stroke-width="0.9" stroke-linejoin="round" />
<polyline points="454.00,391.00 454.00,388.30 472.90,388.30 472.90,396.90" fill="none" stroke="#555" stroke-width="0.9" stroke-linejoin="round" />
<text x="443.80" y="386.06" font-size="7.6" text-anchor="middle" fill="#111" font-weight="bold" stroke="#111" stroke-width="0.15">*</text>
<text x="463.30" y="386.00" font-size="6.4" text-anchor="middle" fill="#222" font-weight="normal" stroke="#222" stroke-width="0.2" >NS</text>
</svg>
</body></html>
